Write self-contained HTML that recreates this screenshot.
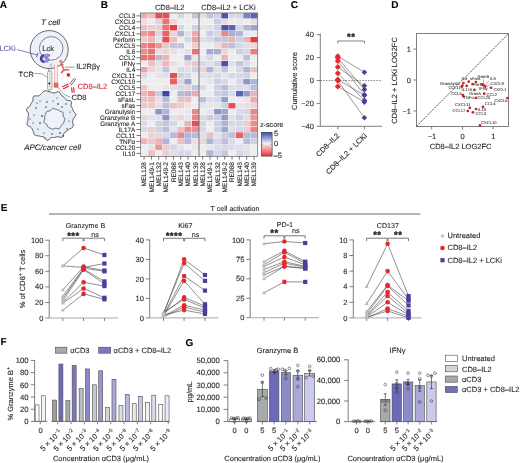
<!DOCTYPE html>
<html><head><meta charset="utf-8"><title>Figure</title>
<style>html,body{margin:0;padding:0;background:#fff;}svg{display:block;} text{text-rendering:geometricPrecision;}</style></head>
<body><svg width="520" height="463" viewBox="0 0 520 463" font-family="'Liberation Sans', Arial, Helvetica, sans-serif" fill="#231f20">
<rect width="520" height="463" fill="#fff"/>
<text x="-0.30" y="7.70" font-size="10" fill="#000" font-weight="bold" stroke="#000" stroke-width="0.1">A</text>
<text x="100.80" y="7.90" font-size="10" fill="#000" font-weight="bold" stroke="#000" stroke-width="0.1">B</text>
<text x="290.80" y="7.90" font-size="10" fill="#000" font-weight="bold" stroke="#000" stroke-width="0.1">C</text>
<text x="391.20" y="7.90" font-size="10" fill="#000" font-weight="bold" stroke="#000" stroke-width="0.1">D</text>
<text x="0.80" y="210.70" font-size="10" fill="#000" font-weight="bold" stroke="#000" stroke-width="0.1">E</text>
<text x="0.50" y="344.70" font-size="10" fill="#000" font-weight="bold" stroke="#000" stroke-width="0.1">F</text>
<text x="185.60" y="345.60" font-size="10" fill="#000" font-weight="bold" stroke="#000" stroke-width="0.1">G</text>
<g>
<circle cx="49.2" cy="49.6" r="19.0" fill="#ebf0f9" stroke="#4d4d4f" stroke-width="0.85"/>
<circle cx="51.2" cy="48.4" r="11.8" fill="#f1f5fb" stroke="#5d5e60" stroke-width="0.75"/>
<text x="50.60" y="25.20" font-size="8" text-anchor="middle" font-style="italic" stroke="#231f20" stroke-width="0.1">T cell</text>
<text x="48.20" y="51.10" font-size="7.5" text-anchor="middle" stroke="#231f20" stroke-width="0.1">Lck</text>
<text x="-0.60" y="51.20" font-size="7.5" fill="#6a5cb0" stroke="#6a5cb0" stroke-width="0.1">LCKi</text>
<line x1="17.2" y1="49.6" x2="37.2" y2="55.0" stroke="#6a5cb0" stroke-width="0.8"/>
<line x1="37.8" y1="52.9" x2="36.6" y2="57.3" stroke="#6a5cb0" stroke-width="1.0"/>
<path d="M44.2,53.9 C41.2,54.2 39.6,56.6 39.8,58.8 C40.0,61.3 42.0,63.2 44.6,63.0 L44.9,60.6 C43.3,60.7 42.6,59.6 42.6,58.4 C42.6,57.1 43.4,56.3 44.6,56.3 Z" fill="#4e3c9e"/>
<path d="M44.0,54.6 C46.0,53.6 49.2,53.4 50.6,55.2 C50.2,56.6 48.6,56.9 47.4,57.3 C48.6,57.9 49.8,58.9 49.6,60.5 C48.6,62.0 46.6,63.2 45.4,62.6 L44.8,60.4 C45.8,59.8 46.0,58.6 45.0,57.8 C44.4,57.2 44.0,56.0 44.0,54.6 Z" fill="#8f82cc"/>
<path d="M45.6,55.5 L48.2,55.2 M45.8,59.2 L47.8,60.6" stroke="#d6d1ee" stroke-width="0.45" fill="none"/>
<line x1="50.2" y1="63.4" x2="50.2" y2="71.5" stroke="#a7a9ac" stroke-width="0.6"/>
<line x1="51.7" y1="63.4" x2="51.7" y2="71.5" stroke="#a7a9ac" stroke-width="0.6"/>
<line x1="48.6" y1="68.8" x2="48.6" y2="96.5" stroke="#58595b" stroke-width="0.5"/>
<rect x="47.5" y="71.3" width="4.5" height="18.8" rx="1.6" fill="#f1f2f2" stroke="#808285" stroke-width="0.6"/>
<line x1="49.6" y1="74.6" x2="52.0" y2="74.6" stroke="#a7a9ac" stroke-width="0.45"/>
<line x1="49.6" y1="77.8" x2="52.0" y2="77.8" stroke="#a7a9ac" stroke-width="0.45"/>
<line x1="49.6" y1="81.0" x2="52.0" y2="81.0" stroke="#a7a9ac" stroke-width="0.45"/>
<line x1="49.6" y1="86.6" x2="52.0" y2="86.6" stroke="#a7a9ac" stroke-width="0.45"/>
<line x1="49.7" y1="71.6" x2="49.7" y2="90" stroke="#b0b1b3" stroke-width="0.4"/>
<circle cx="49.4" cy="83.4" r="1.0" fill="#111"/>
<rect x="54.5" y="64.3" width="3.1" height="18.5" fill="#fcecec" stroke="none"/>
<line x1="54.5" y1="64.3" x2="54.5" y2="82.8" stroke="#ec9a9d" stroke-width="0.7"/>
<line x1="57.6" y1="64.3" x2="57.6" y2="82.8" stroke="#ec9a9d" stroke-width="0.7"/>
<rect x="53.8" y="82.6" width="4.5" height="5.0" fill="#e45c62"/>
<line x1="56.05" y1="82.8" x2="56.05" y2="87.4" stroke="#f2a8ab" stroke-width="0.45"/>
<g stroke="#e66a6f" fill="none" stroke-linecap="round">
<line x1="59.3" y1="61.2" x2="61.8" y2="60.7" stroke-width="1.0"/>
<line x1="60.6" y1="61.2" x2="64.0" y2="70.2" stroke-width="1.7"/>
<line x1="60.8" y1="65.6" x2="63.2" y2="64.6" stroke-width="1.1"/>
<path d="M61.3,72.6 Q64.2,68.6 68.6,70.0" stroke-width="1.8"/>
</g>
<line x1="64.8" y1="67.1" x2="74.6" y2="67.1" stroke="#9c9d9f" stroke-width="1.0"/>
<text x="76.20" y="69.10" font-size="7.5" stroke="#231f20" stroke-width="0.1">IL2R&#946;&#947;</text>
<circle cx="68.4" cy="74.9" r="1.8" fill="#d7262d"/>
<line x1="69.6" y1="76.0" x2="71.4" y2="77.4" stroke="#9c9d9f" stroke-width="0.5"/>
<line x1="69.4" y1="84.3" x2="74.4" y2="77.9" stroke="#3a3a3c" stroke-width="0.75"/>
<line x1="70.9" y1="85.3" x2="75.9" y2="78.9" stroke="#3a3a3c" stroke-width="0.75"/>
<line x1="62.1" y1="87.0" x2="68.3" y2="84.1" stroke="#d4242c" stroke-width="1.1"/>
<line x1="62.9" y1="88.9" x2="69.1" y2="86.0" stroke="#d4242c" stroke-width="1.1"/>
<line x1="71.6" y1="87.4" x2="72.2" y2="92.8" stroke="#d4242c" stroke-width="1.1"/>
<line x1="73.6" y1="87.2" x2="74.2" y2="92.6" stroke="#d4242c" stroke-width="1.1"/>
<text x="77.60" y="89.00" font-size="7.5" fill="#d7262d" stroke="#d7262d" stroke-width="0.1">CD8&#8211;IL2</text>
<polyline points="57.4,86.6 64.5,94.8 70.6,97.3" fill="none" stroke="#58595b" stroke-width="0.55"/>
<text x="71.50" y="100.40" font-size="7.5" stroke="#231f20" stroke-width="0.1">CD8</text>
<text x="18.60" y="76.50" font-size="7.5" stroke="#231f20" stroke-width="0.1">TCR</text>
<polyline points="34.6,73.5 41.8,73.7 47.5,77.6" fill="none" stroke="#58595b" stroke-width="0.55"/>
<path d="M75.77,115.30 L75.46,115.95 L75.02,116.58 L74.52,117.19 L74.05,117.78 L73.66,118.35 L73.34,118.92 L73.09,119.49 L72.91,120.06 L72.77,120.65 L72.69,121.25 L72.67,121.87 L72.71,122.52 L72.81,123.20 L72.97,123.92 L73.12,124.67 L73.22,125.42 L73.19,126.12 L72.99,126.76 L72.60,127.30 L72.05,127.74 L71.39,128.10 L70.70,128.42 L70.04,128.73 L69.45,129.06 L68.93,129.44 L68.47,129.85 L68.03,130.27 L67.57,130.67 L67.07,131.03 L66.54,131.34 L65.98,131.62 L65.44,131.89 L64.94,132.21 L64.50,132.59 L64.15,133.08 L63.86,133.69 L63.63,134.40 L63.39,135.15 L63.12,135.89 L62.76,136.54 L62.30,137.03 L61.72,137.32 L61.04,137.40 L60.30,137.32 L59.55,137.14 L58.80,136.93 L58.10,136.77 L57.46,136.72 L56.86,136.78 L56.30,136.93 L55.74,137.14 L55.18,137.33 L54.61,137.47 L54.02,137.53 L53.43,137.52 L52.83,137.48 L52.24,137.46 L51.67,137.53 L51.09,137.75 L50.50,138.15 L49.89,138.68 L49.24,139.28 L48.57,139.83 L47.88,140.20 L47.21,140.29 L46.58,140.08 L46.00,139.60 L45.47,138.94 L44.99,138.25 L44.52,137.62 L44.03,137.15 L43.50,136.86 L42.92,136.70 L42.32,136.62 L41.69,136.57 L41.07,136.48 L40.46,136.35 L39.86,136.18 L39.26,136.01 L38.62,135.87 L37.95,135.79 L37.22,135.75 L36.48,135.69 L35.78,135.56 L35.15,135.30 L34.64,134.88 L34.25,134.32 L33.96,133.66 L33.73,132.97 L33.52,132.28 L33.29,131.63 L33.05,131.01 L32.80,130.42 L32.55,129.83 L32.31,129.26 L32.04,128.71 L31.74,128.19 L31.37,127.72 L30.91,127.31 L30.35,126.94 L29.69,126.60 L28.99,126.26 L28.30,125.89 L27.71,125.44 L27.29,124.91 L27.07,124.29 L27.06,123.60 L27.21,122.87 L27.46,122.13 L27.72,121.40 L27.93,120.72 L28.05,120.07 L28.07,119.46 L28.03,118.86 L27.97,118.27 L27.93,117.67 L27.96,117.07 L28.06,116.48 L28.21,115.88 L28.36,115.30 L28.47,114.72 L28.49,114.15 L28.37,113.56 L28.12,112.95 L27.74,112.30 L27.30,111.63 L26.89,110.92 L26.59,110.22 L26.48,109.53 L26.61,108.90 L26.98,108.33 L27.54,107.84 L28.20,107.40 L28.87,107.00 L29.47,106.59 L29.94,106.15 L30.28,105.65 L30.50,105.11 L30.67,104.53 L30.85,103.96 L31.09,103.41 L31.40,102.90 L31.78,102.43 L32.18,101.99 L32.54,101.52 L32.82,100.98 L32.98,100.34 L33.03,99.57 L33.02,98.71 L33.04,97.84 L33.19,97.06 L33.53,96.45 L34.06,96.06 L34.78,95.88 L35.59,95.87 L36.43,95.93 L37.22,95.98 L37.92,95.94 L38.54,95.79 L39.09,95.53 L39.59,95.20 L40.06,94.82 L40.54,94.41 L41.01,93.99 L41.50,93.56 L41.98,93.10 L42.46,92.60 L42.95,92.07 L43.47,91.55 L44.02,91.11 L44.62,90.80 L45.26,90.67 L45.94,90.72 L46.64,90.90 L47.32,91.15 L47.99,91.41 L48.64,91.62 L49.27,91.78 L49.89,91.91 L50.50,92.04 L51.10,92.21 L51.70,92.41 L52.28,92.63 L52.86,92.83 L53.44,92.98 L54.03,93.03 L54.64,92.96 L55.29,92.76 L55.98,92.47 L56.70,92.15 L57.43,91.89 L58.15,91.76 L58.82,91.82 L59.41,92.09 L59.92,92.56 L60.35,93.18 L60.72,93.87 L61.07,94.56 L61.43,95.17 L61.83,95.68 L62.27,96.10 L62.75,96.44 L63.25,96.75 L63.74,97.08 L64.19,97.46 L64.59,97.89 L64.96,98.37 L65.30,98.86 L65.66,99.33 L66.08,99.72 L66.59,100.03 L67.23,100.23 L67.99,100.36 L68.82,100.46 L69.66,100.59 L70.42,100.82 L71.02,101.20 L71.39,101.73 L71.53,102.41 L71.48,103.19 L71.31,104.00 L71.14,104.79 L71.05,105.50 L71.10,106.13 L71.30,106.68 L71.62,107.19 L71.98,107.69 L72.32,108.21 L72.61,108.75 L72.82,109.32 L72.97,109.91 L73.12,110.49 L73.35,111.06 L73.70,111.62 L74.19,112.18 L74.74,112.75 L75.28,113.35 L75.67,113.98 L75.85,114.64 Z" fill="#e8eef7" stroke="#3f3f41" stroke-width="0.9" stroke-linejoin="round"/>
<path d="M64.75,119.00 L64.77,119.27 L64.75,119.55 L64.70,119.82 L64.63,120.09 L64.53,120.35 L64.42,120.60 L64.31,120.86 L64.20,121.10 L64.09,121.35 L63.99,121.60 L63.90,121.84 L63.82,122.09 L63.74,122.34 L63.67,122.60 L63.59,122.85 L63.50,123.10 L63.40,123.34 L63.28,123.57 L63.14,123.80 L62.98,124.01 L62.79,124.21 L62.60,124.39 L62.38,124.56 L62.17,124.71 L61.94,124.87 L61.73,125.01 L61.52,125.17 L61.32,125.33 L61.15,125.50 L60.99,125.69 L60.85,125.90 L60.73,126.14 L60.61,126.39 L60.51,126.67 L60.40,126.95 L60.29,127.24 L60.16,127.53 L60.02,127.81 L59.85,128.06 L59.66,128.29 L59.44,128.47 L59.20,128.62 L58.93,128.72 L58.65,128.77 L58.35,128.78 L58.04,128.75 L57.73,128.69 L57.42,128.61 L57.12,128.52 L56.83,128.43 L56.54,128.35 L56.27,128.28 L56.01,128.24 L55.76,128.23 L55.52,128.26 L55.28,128.31 L55.04,128.39 L54.80,128.49 L54.55,128.60 L54.30,128.72 L54.04,128.83 L53.78,128.93 L53.51,129.01 L53.24,129.06 L52.97,129.09 L52.70,129.09 L52.44,129.06 L52.17,129.00 L51.92,128.93 L51.66,128.83 L51.42,128.73 L51.17,128.63 L50.93,128.52 L50.68,128.42 L50.44,128.33 L50.19,128.24 L49.93,128.16 L49.68,128.08 L49.42,127.99 L49.16,127.90 L48.91,127.79 L48.67,127.66 L48.45,127.51 L48.24,127.34 L48.05,127.14 L47.88,126.92 L47.74,126.68 L47.62,126.42 L47.51,126.15 L47.42,125.88 L47.34,125.60 L47.26,125.34 L47.17,125.09 L47.06,124.86 L46.94,124.65 L46.78,124.46 L46.61,124.29 L46.40,124.13 L46.16,123.99 L45.90,123.85 L45.63,123.71 L45.35,123.56 L45.07,123.40 L44.80,123.23 L44.56,123.03 L44.35,122.82 L44.18,122.58 L44.05,122.33 L43.98,122.06 L43.95,121.77 L43.96,121.48 L44.01,121.19 L44.09,120.89 L44.20,120.60 L44.31,120.31 L44.43,120.04 L44.54,119.77 L44.63,119.51 L44.70,119.25 L44.75,119.00 L44.78,118.75 L44.78,118.50 L44.76,118.25 L44.74,117.99 L44.70,117.74 L44.67,117.47 L44.65,117.21 L44.64,116.95 L44.65,116.68 L44.68,116.42 L44.73,116.16 L44.80,115.91 L44.89,115.67 L45.00,115.43 L45.11,115.19 L45.23,114.96 L45.35,114.73 L45.46,114.49 L45.56,114.26 L45.66,114.01 L45.74,113.76 L45.82,113.50 L45.90,113.23 L45.98,112.96 L46.08,112.69 L46.18,112.43 L46.31,112.18 L46.46,111.94 L46.64,111.73 L46.85,111.55 L47.08,111.40 L47.34,111.28 L47.63,111.19 L47.92,111.12 L48.23,111.09 L48.53,111.06 L48.84,111.05 L49.13,111.03 L49.40,111.01 L49.66,110.97 L49.90,110.90 L50.12,110.80 L50.32,110.67 L50.51,110.50 L50.70,110.30 L50.88,110.08 L51.06,109.84 L51.24,109.59 L51.44,109.34 L51.65,109.11 L51.87,108.90 L52.11,108.72 L52.37,108.58 L52.63,108.48 L52.91,108.43 L53.19,108.42 L53.47,108.45 L53.75,108.51 L54.03,108.61 L54.30,108.72 L54.57,108.84 L54.83,108.96 L55.08,109.07 L55.33,109.17 L55.58,109.26 L55.83,109.34 L56.08,109.39 L56.33,109.44 L56.59,109.48 L56.84,109.52 L57.10,109.56 L57.35,109.61 L57.60,109.67 L57.85,109.75 L58.09,109.85 L58.32,109.97 L58.54,110.11 L58.76,110.26 L58.96,110.41 L59.16,110.58 L59.36,110.74 L59.57,110.89 L59.78,111.03 L59.99,111.16 L60.23,111.28 L60.47,111.38 L60.73,111.47 L61.00,111.56 L61.28,111.64 L61.57,111.73 L61.85,111.84 L62.12,111.96 L62.37,112.10 L62.60,112.27 L62.80,112.48 L62.97,112.70 L63.09,112.96 L63.17,113.24 L63.21,113.54 L63.22,113.85 L63.20,114.17 L63.17,114.48 L63.12,114.79 L63.07,115.09 L63.04,115.38 L63.02,115.65 L63.03,115.91 L63.07,116.15 L63.15,116.38 L63.26,116.60 L63.41,116.81 L63.57,117.03 L63.76,117.25 L63.95,117.47 L64.14,117.70 L64.32,117.95 L64.47,118.20 L64.60,118.46 L64.70,118.73 Z" fill="#eef3fa" stroke="#3f3f41" stroke-width="0.8"/>
<circle cx="40" cy="101" r="0.55" fill="#111"/>
<circle cx="47" cy="102" r="0.65" fill="#111"/>
<circle cx="53" cy="101" r="0.55" fill="#111"/>
<circle cx="58" cy="104" r="0.8" fill="#111"/>
<circle cx="62" cy="107" r="0.65" fill="#111"/>
<circle cx="36" cy="108" r="0.65" fill="#111"/>
<circle cx="34" cy="115" r="0.55" fill="#111"/>
<circle cx="33" cy="123" r="0.55" fill="#111"/>
<circle cx="38" cy="129" r="0.55" fill="#111"/>
<circle cx="44" cy="133" r="0.55" fill="#111"/>
<circle cx="52" cy="134" r="0.65" fill="#111"/>
<circle cx="60" cy="133" r="0.8" fill="#111"/>
<circle cx="67" cy="129" r="0.65" fill="#111"/>
<circle cx="69" cy="121" r="0.55" fill="#111"/>
<circle cx="70" cy="112" r="0.55" fill="#111"/>
<circle cx="42" cy="116" r="0.8" fill="#111"/>
<circle cx="40" cy="123" r="0.8" fill="#111"/>
<circle cx="46" cy="107" r="0.65" fill="#111"/>
<circle cx="66" cy="104" r="0.65" fill="#111"/>
<circle cx="57" cy="98" r="0.55" fill="#111"/>
<circle cx="37" cy="103" r="0.55" fill="#111"/>
<circle cx="63" cy="136" r="0.65" fill="#111"/>
<circle cx="30" cy="119" r="0.55" fill="#111"/>
<circle cx="45" cy="138" r="0.55" fill="#111"/>
<text x="52.60" y="150.00" font-size="8" text-anchor="middle" font-style="italic" stroke="#231f20" stroke-width="0.1">APC/cancer cell</text>
</g>
<g shape-rendering="crispEdges">
<rect x="140.40" y="12.90" width="7.33" height="5.98" fill="#ebabae" stroke="#fafafa" stroke-width="0.35"/>
<rect x="147.73" y="12.90" width="7.33" height="5.98" fill="#ecbfc2" stroke="#fafafa" stroke-width="0.35"/>
<rect x="155.06" y="12.90" width="7.33" height="5.98" fill="#e84d51" stroke="#fafafa" stroke-width="0.35"/>
<rect x="162.39" y="12.90" width="7.33" height="5.98" fill="#e84d51" stroke="#fafafa" stroke-width="0.35"/>
<rect x="169.72" y="12.90" width="7.33" height="5.98" fill="#ededf0" stroke="#fafafa" stroke-width="0.35"/>
<rect x="177.06" y="12.90" width="7.33" height="5.98" fill="#d6d8e7" stroke="#fafafa" stroke-width="0.35"/>
<rect x="184.39" y="12.90" width="7.33" height="5.98" fill="#ededf0" stroke="#fafafa" stroke-width="0.35"/>
<rect x="191.72" y="12.90" width="7.33" height="5.98" fill="#c2c6df" stroke="#fafafa" stroke-width="0.35"/>
<rect x="199.05" y="12.90" width="7.33" height="5.98" fill="#eddde1" stroke="#fafafa" stroke-width="0.35"/>
<rect x="206.38" y="12.90" width="7.33" height="5.98" fill="#c2c6df" stroke="#fafafa" stroke-width="0.35"/>
<rect x="213.71" y="12.90" width="7.33" height="5.98" fill="#ced1e3" stroke="#fafafa" stroke-width="0.35"/>
<rect x="221.04" y="12.90" width="7.33" height="5.98" fill="#4855ad" stroke="#fafafa" stroke-width="0.35"/>
<rect x="228.38" y="12.90" width="7.33" height="5.98" fill="#d6d8e7" stroke="#fafafa" stroke-width="0.35"/>
<rect x="235.71" y="12.90" width="7.33" height="5.98" fill="#d6d8e7" stroke="#fafafa" stroke-width="0.35"/>
<rect x="243.04" y="12.90" width="7.33" height="5.98" fill="#7b84c1" stroke="#fafafa" stroke-width="0.35"/>
<rect x="250.37" y="12.90" width="7.33" height="5.98" fill="#5964b3" stroke="#fafafa" stroke-width="0.35"/>
<rect x="140.40" y="18.88" width="7.33" height="5.98" fill="#eddde1" stroke="#fafafa" stroke-width="0.35"/>
<rect x="147.73" y="18.88" width="7.33" height="5.98" fill="#ededf0" stroke="#fafafa" stroke-width="0.35"/>
<rect x="155.06" y="18.88" width="7.33" height="5.98" fill="#d6d8e7" stroke="#fafafa" stroke-width="0.35"/>
<rect x="162.39" y="18.88" width="7.33" height="5.98" fill="#e97275" stroke="#fafafa" stroke-width="0.35"/>
<rect x="169.72" y="18.88" width="7.33" height="5.98" fill="#ecd4d8" stroke="#fafafa" stroke-width="0.35"/>
<rect x="177.06" y="18.88" width="7.33" height="5.98" fill="#ededf0" stroke="#fafafa" stroke-width="0.35"/>
<rect x="184.39" y="18.88" width="7.33" height="5.98" fill="#ededf0" stroke="#fafafa" stroke-width="0.35"/>
<rect x="191.72" y="18.88" width="7.33" height="5.98" fill="#ededf0" stroke="#fafafa" stroke-width="0.35"/>
<rect x="199.05" y="18.88" width="7.33" height="5.98" fill="#ededf0" stroke="#fafafa" stroke-width="0.35"/>
<rect x="206.38" y="18.88" width="7.33" height="5.98" fill="#ededf0" stroke="#fafafa" stroke-width="0.35"/>
<rect x="213.71" y="18.88" width="7.33" height="5.98" fill="#cacde2" stroke="#fafafa" stroke-width="0.35"/>
<rect x="221.04" y="18.88" width="7.33" height="5.98" fill="#ecd9dc" stroke="#fafafa" stroke-width="0.35"/>
<rect x="228.38" y="18.88" width="7.33" height="5.98" fill="#ededf0" stroke="#fafafa" stroke-width="0.35"/>
<rect x="235.71" y="18.88" width="7.33" height="5.98" fill="#e8e8ee" stroke="#fafafa" stroke-width="0.35"/>
<rect x="243.04" y="18.88" width="7.33" height="5.98" fill="#ededf0" stroke="#fafafa" stroke-width="0.35"/>
<rect x="250.37" y="18.88" width="7.33" height="5.98" fill="#eddde1" stroke="#fafafa" stroke-width="0.35"/>
<rect x="140.40" y="24.86" width="7.33" height="5.98" fill="#ecbfc2" stroke="#fafafa" stroke-width="0.35"/>
<rect x="147.73" y="24.86" width="7.33" height="5.98" fill="#eccccf" stroke="#fafafa" stroke-width="0.35"/>
<rect x="155.06" y="24.86" width="7.33" height="5.98" fill="#eccccf" stroke="#fafafa" stroke-width="0.35"/>
<rect x="162.39" y="24.86" width="7.33" height="5.98" fill="#e97275" stroke="#fafafa" stroke-width="0.35"/>
<rect x="169.72" y="24.86" width="7.33" height="5.98" fill="#e83c40" stroke="#fafafa" stroke-width="0.35"/>
<rect x="177.06" y="24.86" width="7.33" height="5.98" fill="#d6d8e7" stroke="#fafafa" stroke-width="0.35"/>
<rect x="184.39" y="24.86" width="7.33" height="5.98" fill="#ededf0" stroke="#fafafa" stroke-width="0.35"/>
<rect x="191.72" y="24.86" width="7.33" height="5.98" fill="#ced1e3" stroke="#fafafa" stroke-width="0.35"/>
<rect x="199.05" y="24.86" width="7.33" height="5.98" fill="#e3e4ec" stroke="#fafafa" stroke-width="0.35"/>
<rect x="206.38" y="24.86" width="7.33" height="5.98" fill="#dfe0ea" stroke="#fafafa" stroke-width="0.35"/>
<rect x="213.71" y="24.86" width="7.33" height="5.98" fill="#ced1e3" stroke="#fafafa" stroke-width="0.35"/>
<rect x="221.04" y="24.86" width="7.33" height="5.98" fill="#4855ad" stroke="#fafafa" stroke-width="0.35"/>
<rect x="228.38" y="24.86" width="7.33" height="5.98" fill="#5964b3" stroke="#fafafa" stroke-width="0.35"/>
<rect x="235.71" y="24.86" width="7.33" height="5.98" fill="#d6d8e7" stroke="#fafafa" stroke-width="0.35"/>
<rect x="243.04" y="24.86" width="7.33" height="5.98" fill="#b0b4d7" stroke="#fafafa" stroke-width="0.35"/>
<rect x="250.37" y="24.86" width="7.33" height="5.98" fill="#9ea4d0" stroke="#fafafa" stroke-width="0.35"/>
<rect x="140.40" y="30.84" width="7.33" height="5.98" fill="#ea989b" stroke="#fafafa" stroke-width="0.35"/>
<rect x="147.73" y="30.84" width="7.33" height="5.98" fill="#ea8588" stroke="#fafafa" stroke-width="0.35"/>
<rect x="155.06" y="30.84" width="7.33" height="5.98" fill="#d6d8e7" stroke="#fafafa" stroke-width="0.35"/>
<rect x="162.39" y="30.84" width="7.33" height="5.98" fill="#e96063" stroke="#fafafa" stroke-width="0.35"/>
<rect x="169.72" y="30.84" width="7.33" height="5.98" fill="#ecd4d8" stroke="#fafafa" stroke-width="0.35"/>
<rect x="177.06" y="30.84" width="7.33" height="5.98" fill="#b0b4d7" stroke="#fafafa" stroke-width="0.35"/>
<rect x="184.39" y="30.84" width="7.33" height="5.98" fill="#dfe0ea" stroke="#fafafa" stroke-width="0.35"/>
<rect x="191.72" y="30.84" width="7.33" height="5.98" fill="#ebabae" stroke="#fafafa" stroke-width="0.35"/>
<rect x="199.05" y="30.84" width="7.33" height="5.98" fill="#ededf0" stroke="#fafafa" stroke-width="0.35"/>
<rect x="206.38" y="30.84" width="7.33" height="5.98" fill="#cacde2" stroke="#fafafa" stroke-width="0.35"/>
<rect x="213.71" y="30.84" width="7.33" height="5.98" fill="#d6d8e7" stroke="#fafafa" stroke-width="0.35"/>
<rect x="221.04" y="30.84" width="7.33" height="5.98" fill="#ea8588" stroke="#fafafa" stroke-width="0.35"/>
<rect x="228.38" y="30.84" width="7.33" height="5.98" fill="#a8aed4" stroke="#fafafa" stroke-width="0.35"/>
<rect x="235.71" y="30.84" width="7.33" height="5.98" fill="#b0b4d7" stroke="#fafafa" stroke-width="0.35"/>
<rect x="243.04" y="30.84" width="7.33" height="5.98" fill="#e8e8ee" stroke="#fafafa" stroke-width="0.35"/>
<rect x="250.37" y="30.84" width="7.33" height="5.98" fill="#ededf0" stroke="#fafafa" stroke-width="0.35"/>
<rect x="140.40" y="36.82" width="7.33" height="5.98" fill="#eccccf" stroke="#fafafa" stroke-width="0.35"/>
<rect x="147.73" y="36.82" width="7.33" height="5.98" fill="#ebb7ba" stroke="#fafafa" stroke-width="0.35"/>
<rect x="155.06" y="36.82" width="7.33" height="5.98" fill="#e3e4ec" stroke="#fafafa" stroke-width="0.35"/>
<rect x="162.39" y="36.82" width="7.33" height="5.98" fill="#e84d51" stroke="#fafafa" stroke-width="0.35"/>
<rect x="169.72" y="36.82" width="7.33" height="5.98" fill="#ecbfc2" stroke="#fafafa" stroke-width="0.35"/>
<rect x="177.06" y="36.82" width="7.33" height="5.98" fill="#ededf0" stroke="#fafafa" stroke-width="0.35"/>
<rect x="184.39" y="36.82" width="7.33" height="5.98" fill="#d6d8e7" stroke="#fafafa" stroke-width="0.35"/>
<rect x="191.72" y="36.82" width="7.33" height="5.98" fill="#eb9fa3" stroke="#fafafa" stroke-width="0.35"/>
<rect x="199.05" y="36.82" width="7.33" height="5.98" fill="#dfe0ea" stroke="#fafafa" stroke-width="0.35"/>
<rect x="206.38" y="36.82" width="7.33" height="5.98" fill="#d6d8e7" stroke="#fafafa" stroke-width="0.35"/>
<rect x="213.71" y="36.82" width="7.33" height="5.98" fill="#c2c6df" stroke="#fafafa" stroke-width="0.35"/>
<rect x="221.04" y="36.82" width="7.33" height="5.98" fill="#c2c6df" stroke="#fafafa" stroke-width="0.35"/>
<rect x="228.38" y="36.82" width="7.33" height="5.98" fill="#ebb3b6" stroke="#fafafa" stroke-width="0.35"/>
<rect x="235.71" y="36.82" width="7.33" height="5.98" fill="#ced1e3" stroke="#fafafa" stroke-width="0.35"/>
<rect x="243.04" y="36.82" width="7.33" height="5.98" fill="#ebb3b6" stroke="#fafafa" stroke-width="0.35"/>
<rect x="250.37" y="36.82" width="7.33" height="5.98" fill="#e83c40" stroke="#fafafa" stroke-width="0.35"/>
<rect x="140.40" y="42.80" width="7.33" height="5.98" fill="#ea8588" stroke="#fafafa" stroke-width="0.35"/>
<rect x="147.73" y="42.80" width="7.33" height="5.98" fill="#e97275" stroke="#fafafa" stroke-width="0.35"/>
<rect x="155.06" y="42.80" width="7.33" height="5.98" fill="#ea989b" stroke="#fafafa" stroke-width="0.35"/>
<rect x="162.39" y="42.80" width="7.33" height="5.98" fill="#ecc8cb" stroke="#fafafa" stroke-width="0.35"/>
<rect x="169.72" y="42.80" width="7.33" height="5.98" fill="#c2c6df" stroke="#fafafa" stroke-width="0.35"/>
<rect x="177.06" y="42.80" width="7.33" height="5.98" fill="#c2c6df" stroke="#fafafa" stroke-width="0.35"/>
<rect x="184.39" y="42.80" width="7.33" height="5.98" fill="#ededf0" stroke="#fafafa" stroke-width="0.35"/>
<rect x="191.72" y="42.80" width="7.33" height="5.98" fill="#eccccf" stroke="#fafafa" stroke-width="0.35"/>
<rect x="199.05" y="42.80" width="7.33" height="5.98" fill="#ededf0" stroke="#fafafa" stroke-width="0.35"/>
<rect x="206.38" y="42.80" width="7.33" height="5.98" fill="#ededf0" stroke="#fafafa" stroke-width="0.35"/>
<rect x="213.71" y="42.80" width="7.33" height="5.98" fill="#eddde1" stroke="#fafafa" stroke-width="0.35"/>
<rect x="221.04" y="42.80" width="7.33" height="5.98" fill="#ebb7ba" stroke="#fafafa" stroke-width="0.35"/>
<rect x="228.38" y="42.80" width="7.33" height="5.98" fill="#bbbfdc" stroke="#fafafa" stroke-width="0.35"/>
<rect x="235.71" y="42.80" width="7.33" height="5.98" fill="#d6d8e7" stroke="#fafafa" stroke-width="0.35"/>
<rect x="243.04" y="42.80" width="7.33" height="5.98" fill="#dfe0ea" stroke="#fafafa" stroke-width="0.35"/>
<rect x="250.37" y="42.80" width="7.33" height="5.98" fill="#ecd9dc" stroke="#fafafa" stroke-width="0.35"/>
<rect x="140.40" y="48.77" width="7.33" height="5.98" fill="#ea8c90" stroke="#fafafa" stroke-width="0.35"/>
<rect x="147.73" y="48.77" width="7.33" height="5.98" fill="#e97275" stroke="#fafafa" stroke-width="0.35"/>
<rect x="155.06" y="48.77" width="7.33" height="5.98" fill="#eddde1" stroke="#fafafa" stroke-width="0.35"/>
<rect x="162.39" y="48.77" width="7.33" height="5.98" fill="#ecd4d8" stroke="#fafafa" stroke-width="0.35"/>
<rect x="169.72" y="48.77" width="7.33" height="5.98" fill="#eddde1" stroke="#fafafa" stroke-width="0.35"/>
<rect x="177.06" y="48.77" width="7.33" height="5.98" fill="#ededf0" stroke="#fafafa" stroke-width="0.35"/>
<rect x="184.39" y="48.77" width="7.33" height="5.98" fill="#dfe0ea" stroke="#fafafa" stroke-width="0.35"/>
<rect x="191.72" y="48.77" width="7.33" height="5.98" fill="#e97275" stroke="#fafafa" stroke-width="0.35"/>
<rect x="199.05" y="48.77" width="7.33" height="5.98" fill="#ededf0" stroke="#fafafa" stroke-width="0.35"/>
<rect x="206.38" y="48.77" width="7.33" height="5.98" fill="#a5aad2" stroke="#fafafa" stroke-width="0.35"/>
<rect x="213.71" y="48.77" width="7.33" height="5.98" fill="#a8aed4" stroke="#fafafa" stroke-width="0.35"/>
<rect x="221.04" y="48.77" width="7.33" height="5.98" fill="#ecd4d8" stroke="#fafafa" stroke-width="0.35"/>
<rect x="228.38" y="48.77" width="7.33" height="5.98" fill="#ededf0" stroke="#fafafa" stroke-width="0.35"/>
<rect x="235.71" y="48.77" width="7.33" height="5.98" fill="#ced1e3" stroke="#fafafa" stroke-width="0.35"/>
<rect x="243.04" y="48.77" width="7.33" height="5.98" fill="#d6d8e7" stroke="#fafafa" stroke-width="0.35"/>
<rect x="250.37" y="48.77" width="7.33" height="5.98" fill="#ea7d81" stroke="#fafafa" stroke-width="0.35"/>
<rect x="140.40" y="54.75" width="7.33" height="5.98" fill="#e97275" stroke="#fafafa" stroke-width="0.35"/>
<rect x="147.73" y="54.75" width="7.33" height="5.98" fill="#e97275" stroke="#fafafa" stroke-width="0.35"/>
<rect x="155.06" y="54.75" width="7.33" height="5.98" fill="#b7bbda" stroke="#fafafa" stroke-width="0.35"/>
<rect x="162.39" y="54.75" width="7.33" height="5.98" fill="#ebb3b6" stroke="#fafafa" stroke-width="0.35"/>
<rect x="169.72" y="54.75" width="7.33" height="5.98" fill="#ededf0" stroke="#fafafa" stroke-width="0.35"/>
<rect x="177.06" y="54.75" width="7.33" height="5.98" fill="#ededf0" stroke="#fafafa" stroke-width="0.35"/>
<rect x="184.39" y="54.75" width="7.33" height="5.98" fill="#9ea4d0" stroke="#fafafa" stroke-width="0.35"/>
<rect x="191.72" y="54.75" width="7.33" height="5.98" fill="#e3e4ec" stroke="#fafafa" stroke-width="0.35"/>
<rect x="199.05" y="54.75" width="7.33" height="5.98" fill="#e8e8ee" stroke="#fafafa" stroke-width="0.35"/>
<rect x="206.38" y="54.75" width="7.33" height="5.98" fill="#d6d8e7" stroke="#fafafa" stroke-width="0.35"/>
<rect x="213.71" y="54.75" width="7.33" height="5.98" fill="#ededf0" stroke="#fafafa" stroke-width="0.35"/>
<rect x="221.04" y="54.75" width="7.33" height="5.98" fill="#ebb3b6" stroke="#fafafa" stroke-width="0.35"/>
<rect x="228.38" y="54.75" width="7.33" height="5.98" fill="#ededf0" stroke="#fafafa" stroke-width="0.35"/>
<rect x="235.71" y="54.75" width="7.33" height="5.98" fill="#ededf0" stroke="#fafafa" stroke-width="0.35"/>
<rect x="243.04" y="54.75" width="7.33" height="5.98" fill="#bbbfdc" stroke="#fafafa" stroke-width="0.35"/>
<rect x="250.37" y="54.75" width="7.33" height="5.98" fill="#ededf0" stroke="#fafafa" stroke-width="0.35"/>
<rect x="140.40" y="60.73" width="7.33" height="5.98" fill="#ededf0" stroke="#fafafa" stroke-width="0.35"/>
<rect x="147.73" y="60.73" width="7.33" height="5.98" fill="#ecbfc2" stroke="#fafafa" stroke-width="0.35"/>
<rect x="155.06" y="60.73" width="7.33" height="5.98" fill="#dfe0ea" stroke="#fafafa" stroke-width="0.35"/>
<rect x="162.39" y="60.73" width="7.33" height="5.98" fill="#ebb7ba" stroke="#fafafa" stroke-width="0.35"/>
<rect x="169.72" y="60.73" width="7.33" height="5.98" fill="#eddde1" stroke="#fafafa" stroke-width="0.35"/>
<rect x="177.06" y="60.73" width="7.33" height="5.98" fill="#ededf0" stroke="#fafafa" stroke-width="0.35"/>
<rect x="184.39" y="60.73" width="7.33" height="5.98" fill="#ecd4d8" stroke="#fafafa" stroke-width="0.35"/>
<rect x="191.72" y="60.73" width="7.33" height="5.98" fill="#ecc8cb" stroke="#fafafa" stroke-width="0.35"/>
<rect x="199.05" y="60.73" width="7.33" height="5.98" fill="#d6d8e7" stroke="#fafafa" stroke-width="0.35"/>
<rect x="206.38" y="60.73" width="7.33" height="5.98" fill="#dfe0ea" stroke="#fafafa" stroke-width="0.35"/>
<rect x="213.71" y="60.73" width="7.33" height="5.98" fill="#ced1e3" stroke="#fafafa" stroke-width="0.35"/>
<rect x="221.04" y="60.73" width="7.33" height="5.98" fill="#4855ad" stroke="#fafafa" stroke-width="0.35"/>
<rect x="228.38" y="60.73" width="7.33" height="5.98" fill="#dfe0ea" stroke="#fafafa" stroke-width="0.35"/>
<rect x="235.71" y="60.73" width="7.33" height="5.98" fill="#c2c6df" stroke="#fafafa" stroke-width="0.35"/>
<rect x="243.04" y="60.73" width="7.33" height="5.98" fill="#dadce8" stroke="#fafafa" stroke-width="0.35"/>
<rect x="250.37" y="60.73" width="7.33" height="5.98" fill="#ededf0" stroke="#fafafa" stroke-width="0.35"/>
<rect x="140.40" y="66.71" width="7.33" height="5.98" fill="#eba3a7" stroke="#fafafa" stroke-width="0.35"/>
<rect x="147.73" y="66.71" width="7.33" height="5.98" fill="#ecd4d8" stroke="#fafafa" stroke-width="0.35"/>
<rect x="155.06" y="66.71" width="7.33" height="5.98" fill="#e3e4ec" stroke="#fafafa" stroke-width="0.35"/>
<rect x="162.39" y="66.71" width="7.33" height="5.98" fill="#c2c6df" stroke="#fafafa" stroke-width="0.35"/>
<rect x="169.72" y="66.71" width="7.33" height="5.98" fill="#ededf0" stroke="#fafafa" stroke-width="0.35"/>
<rect x="177.06" y="66.71" width="7.33" height="5.98" fill="#d6d8e7" stroke="#fafafa" stroke-width="0.35"/>
<rect x="184.39" y="66.71" width="7.33" height="5.98" fill="#dfe0ea" stroke="#fafafa" stroke-width="0.35"/>
<rect x="191.72" y="66.71" width="7.33" height="5.98" fill="#ced1e3" stroke="#fafafa" stroke-width="0.35"/>
<rect x="199.05" y="66.71" width="7.33" height="5.98" fill="#ecd4d8" stroke="#fafafa" stroke-width="0.35"/>
<rect x="206.38" y="66.71" width="7.33" height="5.98" fill="#b0b4d7" stroke="#fafafa" stroke-width="0.35"/>
<rect x="213.71" y="66.71" width="7.33" height="5.98" fill="#dfe0ea" stroke="#fafafa" stroke-width="0.35"/>
<rect x="221.04" y="66.71" width="7.33" height="5.98" fill="#c2c6df" stroke="#fafafa" stroke-width="0.35"/>
<rect x="228.38" y="66.71" width="7.33" height="5.98" fill="#ededf0" stroke="#fafafa" stroke-width="0.35"/>
<rect x="235.71" y="66.71" width="7.33" height="5.98" fill="#d6d8e7" stroke="#fafafa" stroke-width="0.35"/>
<rect x="243.04" y="66.71" width="7.33" height="5.98" fill="#b0b4d7" stroke="#fafafa" stroke-width="0.35"/>
<rect x="250.37" y="66.71" width="7.33" height="5.98" fill="#ecbfc2" stroke="#fafafa" stroke-width="0.35"/>
<rect x="140.40" y="72.69" width="7.33" height="5.98" fill="#d6d8e7" stroke="#fafafa" stroke-width="0.35"/>
<rect x="147.73" y="72.69" width="7.33" height="5.98" fill="#ededf0" stroke="#fafafa" stroke-width="0.35"/>
<rect x="155.06" y="72.69" width="7.33" height="5.98" fill="#e3e4ec" stroke="#fafafa" stroke-width="0.35"/>
<rect x="162.39" y="72.69" width="7.33" height="5.98" fill="#dfe0ea" stroke="#fafafa" stroke-width="0.35"/>
<rect x="169.72" y="72.69" width="7.33" height="5.98" fill="#e84d51" stroke="#fafafa" stroke-width="0.35"/>
<rect x="177.06" y="72.69" width="7.33" height="5.98" fill="#ced1e3" stroke="#fafafa" stroke-width="0.35"/>
<rect x="184.39" y="72.69" width="7.33" height="5.98" fill="#d6d8e7" stroke="#fafafa" stroke-width="0.35"/>
<rect x="191.72" y="72.69" width="7.33" height="5.98" fill="#ededf0" stroke="#fafafa" stroke-width="0.35"/>
<rect x="199.05" y="72.69" width="7.33" height="5.98" fill="#dfe0ea" stroke="#fafafa" stroke-width="0.35"/>
<rect x="206.38" y="72.69" width="7.33" height="5.98" fill="#dfe0ea" stroke="#fafafa" stroke-width="0.35"/>
<rect x="213.71" y="72.69" width="7.33" height="5.98" fill="#d6d8e7" stroke="#fafafa" stroke-width="0.35"/>
<rect x="221.04" y="72.69" width="7.33" height="5.98" fill="#e3e4ec" stroke="#fafafa" stroke-width="0.35"/>
<rect x="228.38" y="72.69" width="7.33" height="5.98" fill="#d6d8e7" stroke="#fafafa" stroke-width="0.35"/>
<rect x="235.71" y="72.69" width="7.33" height="5.98" fill="#d6d8e7" stroke="#fafafa" stroke-width="0.35"/>
<rect x="243.04" y="72.69" width="7.33" height="5.98" fill="#ced1e3" stroke="#fafafa" stroke-width="0.35"/>
<rect x="250.37" y="72.69" width="7.33" height="5.98" fill="#ededf0" stroke="#fafafa" stroke-width="0.35"/>
<rect x="140.40" y="78.67" width="7.33" height="5.98" fill="#ededf0" stroke="#fafafa" stroke-width="0.35"/>
<rect x="147.73" y="78.67" width="7.33" height="5.98" fill="#ededf0" stroke="#fafafa" stroke-width="0.35"/>
<rect x="155.06" y="78.67" width="7.33" height="5.98" fill="#ededf0" stroke="#fafafa" stroke-width="0.35"/>
<rect x="162.39" y="78.67" width="7.33" height="5.98" fill="#ededf0" stroke="#fafafa" stroke-width="0.35"/>
<rect x="169.72" y="78.67" width="7.33" height="5.98" fill="#e96063" stroke="#fafafa" stroke-width="0.35"/>
<rect x="177.06" y="78.67" width="7.33" height="5.98" fill="#d6d8e7" stroke="#fafafa" stroke-width="0.35"/>
<rect x="184.39" y="78.67" width="7.33" height="5.98" fill="#9ea4d0" stroke="#fafafa" stroke-width="0.35"/>
<rect x="191.72" y="78.67" width="7.33" height="5.98" fill="#ededf0" stroke="#fafafa" stroke-width="0.35"/>
<rect x="199.05" y="78.67" width="7.33" height="5.98" fill="#ededf0" stroke="#fafafa" stroke-width="0.35"/>
<rect x="206.38" y="78.67" width="7.33" height="5.98" fill="#e3e4ec" stroke="#fafafa" stroke-width="0.35"/>
<rect x="213.71" y="78.67" width="7.33" height="5.98" fill="#ced1e3" stroke="#fafafa" stroke-width="0.35"/>
<rect x="221.04" y="78.67" width="7.33" height="5.98" fill="#d6d8e7" stroke="#fafafa" stroke-width="0.35"/>
<rect x="228.38" y="78.67" width="7.33" height="5.98" fill="#ededf0" stroke="#fafafa" stroke-width="0.35"/>
<rect x="235.71" y="78.67" width="7.33" height="5.98" fill="#d6d8e7" stroke="#fafafa" stroke-width="0.35"/>
<rect x="243.04" y="78.67" width="7.33" height="5.98" fill="#8c94c8" stroke="#fafafa" stroke-width="0.35"/>
<rect x="250.37" y="78.67" width="7.33" height="5.98" fill="#b0b4d7" stroke="#fafafa" stroke-width="0.35"/>
<rect x="140.40" y="84.65" width="7.33" height="5.98" fill="#ecc8cb" stroke="#fafafa" stroke-width="0.35"/>
<rect x="147.73" y="84.65" width="7.33" height="5.98" fill="#ededf0" stroke="#fafafa" stroke-width="0.35"/>
<rect x="155.06" y="84.65" width="7.33" height="5.98" fill="#ededf0" stroke="#fafafa" stroke-width="0.35"/>
<rect x="162.39" y="84.65" width="7.33" height="5.98" fill="#e3e4ec" stroke="#fafafa" stroke-width="0.35"/>
<rect x="169.72" y="84.65" width="7.33" height="5.98" fill="#dfe0ea" stroke="#fafafa" stroke-width="0.35"/>
<rect x="177.06" y="84.65" width="7.33" height="5.98" fill="#d6d8e7" stroke="#fafafa" stroke-width="0.35"/>
<rect x="184.39" y="84.65" width="7.33" height="5.98" fill="#ecd4d8" stroke="#fafafa" stroke-width="0.35"/>
<rect x="191.72" y="84.65" width="7.33" height="5.98" fill="#c2c6df" stroke="#fafafa" stroke-width="0.35"/>
<rect x="199.05" y="84.65" width="7.33" height="5.98" fill="#dadce8" stroke="#fafafa" stroke-width="0.35"/>
<rect x="206.38" y="84.65" width="7.33" height="5.98" fill="#ededf0" stroke="#fafafa" stroke-width="0.35"/>
<rect x="213.71" y="84.65" width="7.33" height="5.98" fill="#ced1e3" stroke="#fafafa" stroke-width="0.35"/>
<rect x="221.04" y="84.65" width="7.33" height="5.98" fill="#b7bbda" stroke="#fafafa" stroke-width="0.35"/>
<rect x="228.38" y="84.65" width="7.33" height="5.98" fill="#dadce8" stroke="#fafafa" stroke-width="0.35"/>
<rect x="235.71" y="84.65" width="7.33" height="5.98" fill="#dadce8" stroke="#fafafa" stroke-width="0.35"/>
<rect x="243.04" y="84.65" width="7.33" height="5.98" fill="#dfe0ea" stroke="#fafafa" stroke-width="0.35"/>
<rect x="250.37" y="84.65" width="7.33" height="5.98" fill="#bbbfdc" stroke="#fafafa" stroke-width="0.35"/>
<rect x="140.40" y="90.63" width="7.33" height="5.98" fill="#ebb7ba" stroke="#fafafa" stroke-width="0.35"/>
<rect x="147.73" y="90.63" width="7.33" height="5.98" fill="#ea989b" stroke="#fafafa" stroke-width="0.35"/>
<rect x="155.06" y="90.63" width="7.33" height="5.98" fill="#cacde2" stroke="#fafafa" stroke-width="0.35"/>
<rect x="162.39" y="90.63" width="7.33" height="5.98" fill="#3846a6" stroke="#fafafa" stroke-width="0.35"/>
<rect x="169.72" y="90.63" width="7.33" height="5.98" fill="#ededf0" stroke="#fafafa" stroke-width="0.35"/>
<rect x="177.06" y="90.63" width="7.33" height="5.98" fill="#b7bbda" stroke="#fafafa" stroke-width="0.35"/>
<rect x="184.39" y="90.63" width="7.33" height="5.98" fill="#b0b4d7" stroke="#fafafa" stroke-width="0.35"/>
<rect x="191.72" y="90.63" width="7.33" height="5.98" fill="#ebabae" stroke="#fafafa" stroke-width="0.35"/>
<rect x="199.05" y="90.63" width="7.33" height="5.98" fill="#ededf0" stroke="#fafafa" stroke-width="0.35"/>
<rect x="206.38" y="90.63" width="7.33" height="5.98" fill="#ededf0" stroke="#fafafa" stroke-width="0.35"/>
<rect x="213.71" y="90.63" width="7.33" height="5.98" fill="#ced1e3" stroke="#fafafa" stroke-width="0.35"/>
<rect x="221.04" y="90.63" width="7.33" height="5.98" fill="#c2c6df" stroke="#fafafa" stroke-width="0.35"/>
<rect x="228.38" y="90.63" width="7.33" height="5.98" fill="#dadce8" stroke="#fafafa" stroke-width="0.35"/>
<rect x="235.71" y="90.63" width="7.33" height="5.98" fill="#5964b3" stroke="#fafafa" stroke-width="0.35"/>
<rect x="243.04" y="90.63" width="7.33" height="5.98" fill="#939acb" stroke="#fafafa" stroke-width="0.35"/>
<rect x="250.37" y="90.63" width="7.33" height="5.98" fill="#ebb3b6" stroke="#fafafa" stroke-width="0.35"/>
<rect x="140.40" y="96.61" width="7.33" height="5.98" fill="#ecbfc2" stroke="#fafafa" stroke-width="0.35"/>
<rect x="147.73" y="96.61" width="7.33" height="5.98" fill="#ecbfc2" stroke="#fafafa" stroke-width="0.35"/>
<rect x="155.06" y="96.61" width="7.33" height="5.98" fill="#eddde1" stroke="#fafafa" stroke-width="0.35"/>
<rect x="162.39" y="96.61" width="7.33" height="5.98" fill="#b7bbda" stroke="#fafafa" stroke-width="0.35"/>
<rect x="169.72" y="96.61" width="7.33" height="5.98" fill="#ededf0" stroke="#fafafa" stroke-width="0.35"/>
<rect x="177.06" y="96.61" width="7.33" height="5.98" fill="#ecbfc2" stroke="#fafafa" stroke-width="0.35"/>
<rect x="184.39" y="96.61" width="7.33" height="5.98" fill="#ecbfc2" stroke="#fafafa" stroke-width="0.35"/>
<rect x="191.72" y="96.61" width="7.33" height="5.98" fill="#ededf0" stroke="#fafafa" stroke-width="0.35"/>
<rect x="199.05" y="96.61" width="7.33" height="5.98" fill="#bbbfdc" stroke="#fafafa" stroke-width="0.35"/>
<rect x="206.38" y="96.61" width="7.33" height="5.98" fill="#dadce8" stroke="#fafafa" stroke-width="0.35"/>
<rect x="213.71" y="96.61" width="7.33" height="5.98" fill="#d6d8e7" stroke="#fafafa" stroke-width="0.35"/>
<rect x="221.04" y="96.61" width="7.33" height="5.98" fill="#979dcd" stroke="#fafafa" stroke-width="0.35"/>
<rect x="228.38" y="96.61" width="7.33" height="5.98" fill="#ededf0" stroke="#fafafa" stroke-width="0.35"/>
<rect x="235.71" y="96.61" width="7.33" height="5.98" fill="#ededf0" stroke="#fafafa" stroke-width="0.35"/>
<rect x="243.04" y="96.61" width="7.33" height="5.98" fill="#ede2e5" stroke="#fafafa" stroke-width="0.35"/>
<rect x="250.37" y="96.61" width="7.33" height="5.98" fill="#ebabae" stroke="#fafafa" stroke-width="0.35"/>
<rect x="140.40" y="102.59" width="7.33" height="5.98" fill="#ecc8cb" stroke="#fafafa" stroke-width="0.35"/>
<rect x="147.73" y="102.59" width="7.33" height="5.98" fill="#ecc8cb" stroke="#fafafa" stroke-width="0.35"/>
<rect x="155.06" y="102.59" width="7.33" height="5.98" fill="#eddde1" stroke="#fafafa" stroke-width="0.35"/>
<rect x="162.39" y="102.59" width="7.33" height="5.98" fill="#bbbfdc" stroke="#fafafa" stroke-width="0.35"/>
<rect x="169.72" y="102.59" width="7.33" height="5.98" fill="#ecbfc2" stroke="#fafafa" stroke-width="0.35"/>
<rect x="177.06" y="102.59" width="7.33" height="5.98" fill="#eccccf" stroke="#fafafa" stroke-width="0.35"/>
<rect x="184.39" y="102.59" width="7.33" height="5.98" fill="#ede2e5" stroke="#fafafa" stroke-width="0.35"/>
<rect x="191.72" y="102.59" width="7.33" height="5.98" fill="#ededf0" stroke="#fafafa" stroke-width="0.35"/>
<rect x="199.05" y="102.59" width="7.33" height="5.98" fill="#e3e4ec" stroke="#fafafa" stroke-width="0.35"/>
<rect x="206.38" y="102.59" width="7.33" height="5.98" fill="#ede2e5" stroke="#fafafa" stroke-width="0.35"/>
<rect x="213.71" y="102.59" width="7.33" height="5.98" fill="#e3e4ec" stroke="#fafafa" stroke-width="0.35"/>
<rect x="221.04" y="102.59" width="7.33" height="5.98" fill="#ced1e3" stroke="#fafafa" stroke-width="0.35"/>
<rect x="228.38" y="102.59" width="7.33" height="5.98" fill="#e84d51" stroke="#fafafa" stroke-width="0.35"/>
<rect x="235.71" y="102.59" width="7.33" height="5.98" fill="#e3e4ec" stroke="#fafafa" stroke-width="0.35"/>
<rect x="243.04" y="102.59" width="7.33" height="5.98" fill="#eddde1" stroke="#fafafa" stroke-width="0.35"/>
<rect x="250.37" y="102.59" width="7.33" height="5.98" fill="#ecd4d8" stroke="#fafafa" stroke-width="0.35"/>
<rect x="140.40" y="108.57" width="7.33" height="5.98" fill="#ededf0" stroke="#fafafa" stroke-width="0.35"/>
<rect x="147.73" y="108.57" width="7.33" height="5.98" fill="#ededf0" stroke="#fafafa" stroke-width="0.35"/>
<rect x="155.06" y="108.57" width="7.33" height="5.98" fill="#8c94c8" stroke="#fafafa" stroke-width="0.35"/>
<rect x="162.39" y="108.57" width="7.33" height="5.98" fill="#b0b4d7" stroke="#fafafa" stroke-width="0.35"/>
<rect x="169.72" y="108.57" width="7.33" height="5.98" fill="#ededf0" stroke="#fafafa" stroke-width="0.35"/>
<rect x="177.06" y="108.57" width="7.33" height="5.98" fill="#ededf0" stroke="#fafafa" stroke-width="0.35"/>
<rect x="184.39" y="108.57" width="7.33" height="5.98" fill="#e8e8ee" stroke="#fafafa" stroke-width="0.35"/>
<rect x="191.72" y="108.57" width="7.33" height="5.98" fill="#ea8588" stroke="#fafafa" stroke-width="0.35"/>
<rect x="199.05" y="108.57" width="7.33" height="5.98" fill="#ededf0" stroke="#fafafa" stroke-width="0.35"/>
<rect x="206.38" y="108.57" width="7.33" height="5.98" fill="#e3e4ec" stroke="#fafafa" stroke-width="0.35"/>
<rect x="213.71" y="108.57" width="7.33" height="5.98" fill="#8c94c8" stroke="#fafafa" stroke-width="0.35"/>
<rect x="221.04" y="108.57" width="7.33" height="5.98" fill="#9ea4d0" stroke="#fafafa" stroke-width="0.35"/>
<rect x="228.38" y="108.57" width="7.33" height="5.98" fill="#ededf0" stroke="#fafafa" stroke-width="0.35"/>
<rect x="235.71" y="108.57" width="7.33" height="5.98" fill="#dadce8" stroke="#fafafa" stroke-width="0.35"/>
<rect x="243.04" y="108.57" width="7.33" height="5.98" fill="#d6d8e7" stroke="#fafafa" stroke-width="0.35"/>
<rect x="250.37" y="108.57" width="7.33" height="5.98" fill="#ea8588" stroke="#fafafa" stroke-width="0.35"/>
<rect x="140.40" y="114.55" width="7.33" height="5.98" fill="#ecd4d8" stroke="#fafafa" stroke-width="0.35"/>
<rect x="147.73" y="114.55" width="7.33" height="5.98" fill="#dfe0ea" stroke="#fafafa" stroke-width="0.35"/>
<rect x="155.06" y="114.55" width="7.33" height="5.98" fill="#dfe0ea" stroke="#fafafa" stroke-width="0.35"/>
<rect x="162.39" y="114.55" width="7.33" height="5.98" fill="#8c94c8" stroke="#fafafa" stroke-width="0.35"/>
<rect x="169.72" y="114.55" width="7.33" height="5.98" fill="#dfe0ea" stroke="#fafafa" stroke-width="0.35"/>
<rect x="177.06" y="114.55" width="7.33" height="5.98" fill="#ecd4d8" stroke="#fafafa" stroke-width="0.35"/>
<rect x="184.39" y="114.55" width="7.33" height="5.98" fill="#e3e4ec" stroke="#fafafa" stroke-width="0.35"/>
<rect x="191.72" y="114.55" width="7.33" height="5.98" fill="#ea8588" stroke="#fafafa" stroke-width="0.35"/>
<rect x="199.05" y="114.55" width="7.33" height="5.98" fill="#dadce8" stroke="#fafafa" stroke-width="0.35"/>
<rect x="206.38" y="114.55" width="7.33" height="5.98" fill="#cacde2" stroke="#fafafa" stroke-width="0.35"/>
<rect x="213.71" y="114.55" width="7.33" height="5.98" fill="#ced1e3" stroke="#fafafa" stroke-width="0.35"/>
<rect x="221.04" y="114.55" width="7.33" height="5.98" fill="#939acb" stroke="#fafafa" stroke-width="0.35"/>
<rect x="228.38" y="114.55" width="7.33" height="5.98" fill="#dfe0ea" stroke="#fafafa" stroke-width="0.35"/>
<rect x="235.71" y="114.55" width="7.33" height="5.98" fill="#ced1e3" stroke="#fafafa" stroke-width="0.35"/>
<rect x="243.04" y="114.55" width="7.33" height="5.98" fill="#dfe0ea" stroke="#fafafa" stroke-width="0.35"/>
<rect x="250.37" y="114.55" width="7.33" height="5.98" fill="#ea989b" stroke="#fafafa" stroke-width="0.35"/>
<rect x="140.40" y="120.53" width="7.33" height="5.98" fill="#dadce8" stroke="#fafafa" stroke-width="0.35"/>
<rect x="147.73" y="120.53" width="7.33" height="5.98" fill="#ededf0" stroke="#fafafa" stroke-width="0.35"/>
<rect x="155.06" y="120.53" width="7.33" height="5.98" fill="#ced1e3" stroke="#fafafa" stroke-width="0.35"/>
<rect x="162.39" y="120.53" width="7.33" height="5.98" fill="#c2c6df" stroke="#fafafa" stroke-width="0.35"/>
<rect x="169.72" y="120.53" width="7.33" height="5.98" fill="#d6d8e7" stroke="#fafafa" stroke-width="0.35"/>
<rect x="177.06" y="120.53" width="7.33" height="5.98" fill="#ededf0" stroke="#fafafa" stroke-width="0.35"/>
<rect x="184.39" y="120.53" width="7.33" height="5.98" fill="#ebb3b6" stroke="#fafafa" stroke-width="0.35"/>
<rect x="191.72" y="120.53" width="7.33" height="5.98" fill="#e84d51" stroke="#fafafa" stroke-width="0.35"/>
<rect x="199.05" y="120.53" width="7.33" height="5.98" fill="#d6d8e7" stroke="#fafafa" stroke-width="0.35"/>
<rect x="206.38" y="120.53" width="7.33" height="5.98" fill="#ededf0" stroke="#fafafa" stroke-width="0.35"/>
<rect x="213.71" y="120.53" width="7.33" height="5.98" fill="#ced1e3" stroke="#fafafa" stroke-width="0.35"/>
<rect x="221.04" y="120.53" width="7.33" height="5.98" fill="#b0b4d7" stroke="#fafafa" stroke-width="0.35"/>
<rect x="228.38" y="120.53" width="7.33" height="5.98" fill="#d6d8e7" stroke="#fafafa" stroke-width="0.35"/>
<rect x="235.71" y="120.53" width="7.33" height="5.98" fill="#d6d8e7" stroke="#fafafa" stroke-width="0.35"/>
<rect x="243.04" y="120.53" width="7.33" height="5.98" fill="#eccccf" stroke="#fafafa" stroke-width="0.35"/>
<rect x="250.37" y="120.53" width="7.33" height="5.98" fill="#ea8c90" stroke="#fafafa" stroke-width="0.35"/>
<rect x="140.40" y="126.50" width="7.33" height="5.98" fill="#d6d8e7" stroke="#fafafa" stroke-width="0.35"/>
<rect x="147.73" y="126.50" width="7.33" height="5.98" fill="#eccccf" stroke="#fafafa" stroke-width="0.35"/>
<rect x="155.06" y="126.50" width="7.33" height="5.98" fill="#ced1e3" stroke="#fafafa" stroke-width="0.35"/>
<rect x="162.39" y="126.50" width="7.33" height="5.98" fill="#bbbfdc" stroke="#fafafa" stroke-width="0.35"/>
<rect x="169.72" y="126.50" width="7.33" height="5.98" fill="#e3e4ec" stroke="#fafafa" stroke-width="0.35"/>
<rect x="177.06" y="126.50" width="7.33" height="5.98" fill="#ecbfc2" stroke="#fafafa" stroke-width="0.35"/>
<rect x="184.39" y="126.50" width="7.33" height="5.98" fill="#ea8c90" stroke="#fafafa" stroke-width="0.35"/>
<rect x="191.72" y="126.50" width="7.33" height="5.98" fill="#ea8c90" stroke="#fafafa" stroke-width="0.35"/>
<rect x="199.05" y="126.50" width="7.33" height="5.98" fill="#d6d8e7" stroke="#fafafa" stroke-width="0.35"/>
<rect x="206.38" y="126.50" width="7.33" height="5.98" fill="#ededf0" stroke="#fafafa" stroke-width="0.35"/>
<rect x="213.71" y="126.50" width="7.33" height="5.98" fill="#ced1e3" stroke="#fafafa" stroke-width="0.35"/>
<rect x="221.04" y="126.50" width="7.33" height="5.98" fill="#9ea4d0" stroke="#fafafa" stroke-width="0.35"/>
<rect x="228.38" y="126.50" width="7.33" height="5.98" fill="#dfe0ea" stroke="#fafafa" stroke-width="0.35"/>
<rect x="235.71" y="126.50" width="7.33" height="5.98" fill="#d6d8e7" stroke="#fafafa" stroke-width="0.35"/>
<rect x="243.04" y="126.50" width="7.33" height="5.98" fill="#eccccf" stroke="#fafafa" stroke-width="0.35"/>
<rect x="250.37" y="126.50" width="7.33" height="5.98" fill="#ea8588" stroke="#fafafa" stroke-width="0.35"/>
<rect x="140.40" y="132.48" width="7.33" height="5.98" fill="#ededf0" stroke="#fafafa" stroke-width="0.35"/>
<rect x="147.73" y="132.48" width="7.33" height="5.98" fill="#ecd4d8" stroke="#fafafa" stroke-width="0.35"/>
<rect x="155.06" y="132.48" width="7.33" height="5.98" fill="#ecd4d8" stroke="#fafafa" stroke-width="0.35"/>
<rect x="162.39" y="132.48" width="7.33" height="5.98" fill="#d6d8e7" stroke="#fafafa" stroke-width="0.35"/>
<rect x="169.72" y="132.48" width="7.33" height="5.98" fill="#b7bbda" stroke="#fafafa" stroke-width="0.35"/>
<rect x="177.06" y="132.48" width="7.33" height="5.98" fill="#ea8588" stroke="#fafafa" stroke-width="0.35"/>
<rect x="184.39" y="132.48" width="7.33" height="5.98" fill="#b0b4d7" stroke="#fafafa" stroke-width="0.35"/>
<rect x="191.72" y="132.48" width="7.33" height="5.98" fill="#b7bbda" stroke="#fafafa" stroke-width="0.35"/>
<rect x="199.05" y="132.48" width="7.33" height="5.98" fill="#dfe0ea" stroke="#fafafa" stroke-width="0.35"/>
<rect x="206.38" y="132.48" width="7.33" height="5.98" fill="#ecbfc2" stroke="#fafafa" stroke-width="0.35"/>
<rect x="213.71" y="132.48" width="7.33" height="5.98" fill="#e3e4ec" stroke="#fafafa" stroke-width="0.35"/>
<rect x="221.04" y="132.48" width="7.33" height="5.98" fill="#ced1e3" stroke="#fafafa" stroke-width="0.35"/>
<rect x="228.38" y="132.48" width="7.33" height="5.98" fill="#bbbfdc" stroke="#fafafa" stroke-width="0.35"/>
<rect x="235.71" y="132.48" width="7.33" height="5.98" fill="#e96063" stroke="#fafafa" stroke-width="0.35"/>
<rect x="243.04" y="132.48" width="7.33" height="5.98" fill="#b7bbda" stroke="#fafafa" stroke-width="0.35"/>
<rect x="250.37" y="132.48" width="7.33" height="5.98" fill="#b7bbda" stroke="#fafafa" stroke-width="0.35"/>
<rect x="140.40" y="138.46" width="7.33" height="5.98" fill="#ebb3b6" stroke="#fafafa" stroke-width="0.35"/>
<rect x="147.73" y="138.46" width="7.33" height="5.98" fill="#ecc8cb" stroke="#fafafa" stroke-width="0.35"/>
<rect x="155.06" y="138.46" width="7.33" height="5.98" fill="#ebb3b6" stroke="#fafafa" stroke-width="0.35"/>
<rect x="162.39" y="138.46" width="7.33" height="5.98" fill="#b0b4d7" stroke="#fafafa" stroke-width="0.35"/>
<rect x="169.72" y="138.46" width="7.33" height="5.98" fill="#ededf0" stroke="#fafafa" stroke-width="0.35"/>
<rect x="177.06" y="138.46" width="7.33" height="5.98" fill="#ecbfc2" stroke="#fafafa" stroke-width="0.35"/>
<rect x="184.39" y="138.46" width="7.33" height="5.98" fill="#b7bbda" stroke="#fafafa" stroke-width="0.35"/>
<rect x="191.72" y="138.46" width="7.33" height="5.98" fill="#eddde1" stroke="#fafafa" stroke-width="0.35"/>
<rect x="199.05" y="138.46" width="7.33" height="5.98" fill="#ecd4d8" stroke="#fafafa" stroke-width="0.35"/>
<rect x="206.38" y="138.46" width="7.33" height="5.98" fill="#b0b4d7" stroke="#fafafa" stroke-width="0.35"/>
<rect x="213.71" y="138.46" width="7.33" height="5.98" fill="#d6d8e7" stroke="#fafafa" stroke-width="0.35"/>
<rect x="221.04" y="138.46" width="7.33" height="5.98" fill="#bbbfdc" stroke="#fafafa" stroke-width="0.35"/>
<rect x="228.38" y="138.46" width="7.33" height="5.98" fill="#dadce8" stroke="#fafafa" stroke-width="0.35"/>
<rect x="235.71" y="138.46" width="7.33" height="5.98" fill="#ededf0" stroke="#fafafa" stroke-width="0.35"/>
<rect x="243.04" y="138.46" width="7.33" height="5.98" fill="#b7bbda" stroke="#fafafa" stroke-width="0.35"/>
<rect x="250.37" y="138.46" width="7.33" height="5.98" fill="#ced1e3" stroke="#fafafa" stroke-width="0.35"/>
<rect x="140.40" y="144.44" width="7.33" height="5.98" fill="#ededf0" stroke="#fafafa" stroke-width="0.35"/>
<rect x="147.73" y="144.44" width="7.33" height="5.98" fill="#ede2e5" stroke="#fafafa" stroke-width="0.35"/>
<rect x="155.06" y="144.44" width="7.33" height="5.98" fill="#ea989b" stroke="#fafafa" stroke-width="0.35"/>
<rect x="162.39" y="144.44" width="7.33" height="5.98" fill="#eccccf" stroke="#fafafa" stroke-width="0.35"/>
<rect x="169.72" y="144.44" width="7.33" height="5.98" fill="#d6d8e7" stroke="#fafafa" stroke-width="0.35"/>
<rect x="177.06" y="144.44" width="7.33" height="5.98" fill="#e3e4ec" stroke="#fafafa" stroke-width="0.35"/>
<rect x="184.39" y="144.44" width="7.33" height="5.98" fill="#ededf0" stroke="#fafafa" stroke-width="0.35"/>
<rect x="191.72" y="144.44" width="7.33" height="5.98" fill="#ede2e5" stroke="#fafafa" stroke-width="0.35"/>
<rect x="199.05" y="144.44" width="7.33" height="5.98" fill="#ededf0" stroke="#fafafa" stroke-width="0.35"/>
<rect x="206.38" y="144.44" width="7.33" height="5.98" fill="#e3e4ec" stroke="#fafafa" stroke-width="0.35"/>
<rect x="213.71" y="144.44" width="7.33" height="5.98" fill="#dadce8" stroke="#fafafa" stroke-width="0.35"/>
<rect x="221.04" y="144.44" width="7.33" height="5.98" fill="#d6d8e7" stroke="#fafafa" stroke-width="0.35"/>
<rect x="228.38" y="144.44" width="7.33" height="5.98" fill="#dadce8" stroke="#fafafa" stroke-width="0.35"/>
<rect x="235.71" y="144.44" width="7.33" height="5.98" fill="#dfe0ea" stroke="#fafafa" stroke-width="0.35"/>
<rect x="243.04" y="144.44" width="7.33" height="5.98" fill="#e3e4ec" stroke="#fafafa" stroke-width="0.35"/>
<rect x="250.37" y="144.44" width="7.33" height="5.98" fill="#ededf0" stroke="#fafafa" stroke-width="0.35"/>
<rect x="140.40" y="150.42" width="7.33" height="5.98" fill="#ededf0" stroke="#fafafa" stroke-width="0.35"/>
<rect x="147.73" y="150.42" width="7.33" height="5.98" fill="#ecbfc2" stroke="#fafafa" stroke-width="0.35"/>
<rect x="155.06" y="150.42" width="7.33" height="5.98" fill="#ededf0" stroke="#fafafa" stroke-width="0.35"/>
<rect x="162.39" y="150.42" width="7.33" height="5.98" fill="#eccccf" stroke="#fafafa" stroke-width="0.35"/>
<rect x="169.72" y="150.42" width="7.33" height="5.98" fill="#dfe0ea" stroke="#fafafa" stroke-width="0.35"/>
<rect x="177.06" y="150.42" width="7.33" height="5.98" fill="#d6d8e7" stroke="#fafafa" stroke-width="0.35"/>
<rect x="184.39" y="150.42" width="7.33" height="5.98" fill="#d6d8e7" stroke="#fafafa" stroke-width="0.35"/>
<rect x="191.72" y="150.42" width="7.33" height="5.98" fill="#ededf0" stroke="#fafafa" stroke-width="0.35"/>
<rect x="199.05" y="150.42" width="7.33" height="5.98" fill="#ededf0" stroke="#fafafa" stroke-width="0.35"/>
<rect x="206.38" y="150.42" width="7.33" height="5.98" fill="#b0b4d7" stroke="#fafafa" stroke-width="0.35"/>
<rect x="213.71" y="150.42" width="7.33" height="5.98" fill="#d6d8e7" stroke="#fafafa" stroke-width="0.35"/>
<rect x="221.04" y="150.42" width="7.33" height="5.98" fill="#c2c6df" stroke="#fafafa" stroke-width="0.35"/>
<rect x="228.38" y="150.42" width="7.33" height="5.98" fill="#ededf0" stroke="#fafafa" stroke-width="0.35"/>
<rect x="235.71" y="150.42" width="7.33" height="5.98" fill="#d6d8e7" stroke="#fafafa" stroke-width="0.35"/>
<rect x="243.04" y="150.42" width="7.33" height="5.98" fill="#dfe0ea" stroke="#fafafa" stroke-width="0.35"/>
<rect x="250.37" y="150.42" width="7.33" height="5.98" fill="#ededf0" stroke="#fafafa" stroke-width="0.35"/>
</g>
<rect x="140.40" y="12.90" width="117.30" height="143.50" fill="none" stroke="#7a7a7a" stroke-width="0.8"/>
<line x1="199.05" y1="12.90" x2="199.05" y2="156.40" stroke="#6a6a6a" stroke-width="0.9"/>
<line x1="136.50" y1="15.89" x2="140.40" y2="15.89" stroke="#444" stroke-width="0.75"/>
<text x="135.20" y="18.14" font-size="6.35" text-anchor="end" stroke="#231f20" stroke-width="0.1">CCL3</text>
<line x1="136.50" y1="21.87" x2="140.40" y2="21.87" stroke="#444" stroke-width="0.75"/>
<text x="135.20" y="24.12" font-size="6.35" text-anchor="end" stroke="#231f20" stroke-width="0.1">CXCL9</text>
<line x1="136.50" y1="27.85" x2="140.40" y2="27.85" stroke="#444" stroke-width="0.75"/>
<text x="135.20" y="30.10" font-size="6.35" text-anchor="end" stroke="#231f20" stroke-width="0.1">CCL4</text>
<line x1="136.50" y1="33.83" x2="140.40" y2="33.83" stroke="#444" stroke-width="0.75"/>
<text x="135.20" y="36.08" font-size="6.35" text-anchor="end" stroke="#231f20" stroke-width="0.1">CXCL1</text>
<line x1="136.50" y1="39.81" x2="140.40" y2="39.81" stroke="#444" stroke-width="0.75"/>
<text x="135.20" y="42.06" font-size="6.35" text-anchor="end" stroke="#231f20" stroke-width="0.1">Perforin</text>
<line x1="136.50" y1="45.79" x2="140.40" y2="45.79" stroke="#444" stroke-width="0.75"/>
<text x="135.20" y="48.04" font-size="6.35" text-anchor="end" stroke="#231f20" stroke-width="0.1">CXCL5</text>
<line x1="136.50" y1="51.76" x2="140.40" y2="51.76" stroke="#444" stroke-width="0.75"/>
<text x="135.20" y="54.01" font-size="6.35" text-anchor="end" stroke="#231f20" stroke-width="0.1">IL6</text>
<line x1="136.50" y1="57.74" x2="140.40" y2="57.74" stroke="#444" stroke-width="0.75"/>
<text x="135.20" y="59.99" font-size="6.35" text-anchor="end" stroke="#231f20" stroke-width="0.1">CCL2</text>
<line x1="136.50" y1="63.72" x2="140.40" y2="63.72" stroke="#444" stroke-width="0.75"/>
<text x="135.20" y="65.97" font-size="6.35" text-anchor="end" stroke="#231f20" stroke-width="0.1">IFN&#947;</text>
<line x1="136.50" y1="69.70" x2="140.40" y2="69.70" stroke="#444" stroke-width="0.75"/>
<text x="135.20" y="71.95" font-size="6.35" text-anchor="end" stroke="#231f20" stroke-width="0.1">IL4</text>
<line x1="136.50" y1="75.68" x2="140.40" y2="75.68" stroke="#444" stroke-width="0.75"/>
<text x="135.20" y="77.93" font-size="6.35" text-anchor="end" stroke="#231f20" stroke-width="0.1">CXCL11</text>
<line x1="136.50" y1="81.66" x2="140.40" y2="81.66" stroke="#444" stroke-width="0.75"/>
<text x="135.20" y="83.91" font-size="6.35" text-anchor="end" stroke="#231f20" stroke-width="0.1">CXCL10</text>
<line x1="136.50" y1="87.64" x2="140.40" y2="87.64" stroke="#444" stroke-width="0.75"/>
<text x="135.20" y="89.89" font-size="6.35" text-anchor="end" stroke="#231f20" stroke-width="0.1">CCL5</text>
<line x1="136.50" y1="93.62" x2="140.40" y2="93.62" stroke="#444" stroke-width="0.75"/>
<text x="135.20" y="95.87" font-size="6.35" text-anchor="end" stroke="#231f20" stroke-width="0.1">CCL17</text>
<line x1="136.50" y1="99.60" x2="140.40" y2="99.60" stroke="#444" stroke-width="0.75"/>
<text x="135.20" y="101.85" font-size="6.35" text-anchor="end" stroke="#231f20" stroke-width="0.1">sFasL</text>
<line x1="136.50" y1="105.58" x2="140.40" y2="105.58" stroke="#444" stroke-width="0.75"/>
<text x="135.20" y="107.83" font-size="6.35" text-anchor="end" stroke="#231f20" stroke-width="0.1">sFas</text>
<line x1="136.50" y1="111.56" x2="140.40" y2="111.56" stroke="#444" stroke-width="0.75"/>
<text x="135.20" y="113.81" font-size="6.35" text-anchor="end" stroke="#231f20" stroke-width="0.1">Granulysin</text>
<line x1="136.50" y1="117.54" x2="140.40" y2="117.54" stroke="#444" stroke-width="0.75"/>
<text x="135.20" y="119.79" font-size="6.35" text-anchor="end" stroke="#231f20" stroke-width="0.1">Granzyme B</text>
<line x1="136.50" y1="123.51" x2="140.40" y2="123.51" stroke="#444" stroke-width="0.75"/>
<text x="135.20" y="125.76" font-size="6.35" text-anchor="end" stroke="#231f20" stroke-width="0.1">Granzyme A</text>
<line x1="136.50" y1="129.49" x2="140.40" y2="129.49" stroke="#444" stroke-width="0.75"/>
<text x="135.20" y="131.74" font-size="6.35" text-anchor="end" stroke="#231f20" stroke-width="0.1">IL17A</text>
<line x1="136.50" y1="135.47" x2="140.40" y2="135.47" stroke="#444" stroke-width="0.75"/>
<text x="135.20" y="137.72" font-size="6.35" text-anchor="end" stroke="#231f20" stroke-width="0.1">CCL11</text>
<line x1="136.50" y1="141.45" x2="140.40" y2="141.45" stroke="#444" stroke-width="0.75"/>
<text x="135.20" y="143.70" font-size="6.35" text-anchor="end" stroke="#231f20" stroke-width="0.1">TNF&#945;</text>
<line x1="136.50" y1="147.43" x2="140.40" y2="147.43" stroke="#444" stroke-width="0.75"/>
<text x="135.20" y="149.68" font-size="6.35" text-anchor="end" stroke="#231f20" stroke-width="0.1">CCL20</text>
<line x1="136.50" y1="153.41" x2="140.40" y2="153.41" stroke="#444" stroke-width="0.75"/>
<text x="135.20" y="155.66" font-size="6.35" text-anchor="end" stroke="#231f20" stroke-width="0.1">IL10</text>
<line x1="144.07" y1="156.40" x2="144.07" y2="159.60" stroke="#444" stroke-width="0.75"/>
<text x="146.37" y="162.00" font-size="6.6" text-anchor="end" transform="rotate(-90 146.37 162.00)" stroke="#231f20" stroke-width="0.1">MEL128</text>
<line x1="151.40" y1="156.40" x2="151.40" y2="159.60" stroke="#444" stroke-width="0.75"/>
<text x="153.70" y="162.00" font-size="6.6" text-anchor="end" transform="rotate(-90 153.70 162.00)" stroke="#231f20" stroke-width="0.1">MEL149-1</text>
<line x1="158.73" y1="156.40" x2="158.73" y2="159.60" stroke="#444" stroke-width="0.75"/>
<text x="161.03" y="162.00" font-size="6.6" text-anchor="end" transform="rotate(-90 161.03 162.00)" stroke="#231f20" stroke-width="0.1">MEL132</text>
<line x1="166.06" y1="156.40" x2="166.06" y2="159.60" stroke="#444" stroke-width="0.75"/>
<text x="168.36" y="162.00" font-size="6.6" text-anchor="end" transform="rotate(-90 168.36 162.00)" stroke="#231f20" stroke-width="0.1">MEL149-2</text>
<line x1="173.39" y1="156.40" x2="173.39" y2="159.60" stroke="#444" stroke-width="0.75"/>
<text x="175.69" y="162.00" font-size="6.6" text-anchor="end" transform="rotate(-90 175.69 162.00)" stroke="#231f20" stroke-width="0.1">RE088</text>
<line x1="180.72" y1="156.40" x2="180.72" y2="159.60" stroke="#444" stroke-width="0.75"/>
<text x="183.02" y="162.00" font-size="6.6" text-anchor="end" transform="rotate(-90 183.02 162.00)" stroke="#231f20" stroke-width="0.1">MEL143</text>
<line x1="188.05" y1="156.40" x2="188.05" y2="159.60" stroke="#444" stroke-width="0.75"/>
<text x="190.35" y="162.00" font-size="6.6" text-anchor="end" transform="rotate(-90 190.35 162.00)" stroke="#231f20" stroke-width="0.1">MEL140</text>
<line x1="195.38" y1="156.40" x2="195.38" y2="159.60" stroke="#444" stroke-width="0.75"/>
<text x="197.68" y="162.00" font-size="6.6" text-anchor="end" transform="rotate(-90 197.68 162.00)" stroke="#231f20" stroke-width="0.1">MEL139</text>
<line x1="202.72" y1="156.40" x2="202.72" y2="159.60" stroke="#444" stroke-width="0.75"/>
<text x="205.02" y="162.00" font-size="6.6" text-anchor="end" transform="rotate(-90 205.02 162.00)" stroke="#231f20" stroke-width="0.1">MEL128</text>
<line x1="210.05" y1="156.40" x2="210.05" y2="159.60" stroke="#444" stroke-width="0.75"/>
<text x="212.35" y="162.00" font-size="6.6" text-anchor="end" transform="rotate(-90 212.35 162.00)" stroke="#231f20" stroke-width="0.1">MEL149-1</text>
<line x1="217.38" y1="156.40" x2="217.38" y2="159.60" stroke="#444" stroke-width="0.75"/>
<text x="219.68" y="162.00" font-size="6.6" text-anchor="end" transform="rotate(-90 219.68 162.00)" stroke="#231f20" stroke-width="0.1">MEL132</text>
<line x1="224.71" y1="156.40" x2="224.71" y2="159.60" stroke="#444" stroke-width="0.75"/>
<text x="227.01" y="162.00" font-size="6.6" text-anchor="end" transform="rotate(-90 227.01 162.00)" stroke="#231f20" stroke-width="0.1">MEL149-2</text>
<line x1="232.04" y1="156.40" x2="232.04" y2="159.60" stroke="#444" stroke-width="0.75"/>
<text x="234.34" y="162.00" font-size="6.6" text-anchor="end" transform="rotate(-90 234.34 162.00)" stroke="#231f20" stroke-width="0.1">RE088</text>
<line x1="239.37" y1="156.40" x2="239.37" y2="159.60" stroke="#444" stroke-width="0.75"/>
<text x="241.67" y="162.00" font-size="6.6" text-anchor="end" transform="rotate(-90 241.67 162.00)" stroke="#231f20" stroke-width="0.1">MEL143</text>
<line x1="246.70" y1="156.40" x2="246.70" y2="159.60" stroke="#444" stroke-width="0.75"/>
<text x="249.00" y="162.00" font-size="6.6" text-anchor="end" transform="rotate(-90 249.00 162.00)" stroke="#231f20" stroke-width="0.1">MEL140</text>
<line x1="254.03" y1="156.40" x2="254.03" y2="159.60" stroke="#444" stroke-width="0.75"/>
<text x="256.33" y="162.00" font-size="6.6" text-anchor="end" transform="rotate(-90 256.33 162.00)" stroke="#231f20" stroke-width="0.1">MEL139</text>
<text x="169.72" y="9.60" font-size="7.5" text-anchor="middle" stroke="#231f20" stroke-width="0.1">CD8&#8211;IL2</text>
<text x="228.38" y="9.60" font-size="7.5" text-anchor="middle" stroke="#231f20" stroke-width="0.1">CD8&#8211;IL2 + LCKi</text>
<defs><linearGradient id="cbB" x1="0" y1="0" x2="0" y2="1"><stop offset="0" stop-color="#3a48a4"/><stop offset="1" stop-color="#fbfbfd"/></linearGradient><linearGradient id="cbR" x1="0" y1="0" x2="0" y2="1"><stop offset="0" stop-color="#f6e4e4"/><stop offset="1" stop-color="#e8323a"/></linearGradient></defs>
<rect x="261.50" y="132.30" width="10.60" height="11.90" fill="url(#cbB)"/>
<rect x="261.50" y="144.20" width="10.60" height="11.90" fill="url(#cbR)"/>
<rect x="261.50" y="132.30" width="10.60" height="23.80" fill="none" stroke="#333" stroke-width="0.6"/>
<line x1="261.50" y1="144.20" x2="263.00" y2="144.20" stroke="#333" stroke-width="0.5"/>
<line x1="270.60" y1="144.20" x2="272.10" y2="144.20" stroke="#333" stroke-width="0.5"/>
<text x="260.00" y="127.00" font-size="7.2" stroke="#231f20" stroke-width="0.1">z-score</text>
<text x="274.00" y="135.60" font-size="7.5" stroke="#231f20" stroke-width="0.1">5</text>
<text x="274.00" y="146.40" font-size="7.5" stroke="#231f20" stroke-width="0.1">0</text>
<text x="273.50" y="158.20" font-size="7.5" stroke="#231f20" stroke-width="0.1">&#8211;5</text>
<line x1="320.30" y1="33.50" x2="320.30" y2="126.30" stroke="#5f6062" stroke-width="0.8"/>
<line x1="320.30" y1="126.30" x2="382.20" y2="126.30" stroke="#5f6062" stroke-width="0.8"/>
<line x1="316.70" y1="34.70" x2="320.30" y2="34.70" stroke="#5f6062" stroke-width="0.8"/>
<text x="313.90" y="37.40" font-size="7.5" text-anchor="end" stroke="#231f20" stroke-width="0.1">40</text>
<line x1="316.70" y1="57.60" x2="320.30" y2="57.60" stroke="#5f6062" stroke-width="0.8"/>
<text x="313.90" y="60.30" font-size="7.5" text-anchor="end" stroke="#231f20" stroke-width="0.1">20</text>
<line x1="316.70" y1="80.50" x2="320.30" y2="80.50" stroke="#5f6062" stroke-width="0.8"/>
<text x="313.90" y="83.20" font-size="7.5" text-anchor="end" stroke="#231f20" stroke-width="0.1">0</text>
<line x1="316.70" y1="103.40" x2="320.30" y2="103.40" stroke="#5f6062" stroke-width="0.8"/>
<text x="313.90" y="106.10" font-size="7.5" text-anchor="end" stroke="#231f20" stroke-width="0.1">&#8722;20</text>
<line x1="316.70" y1="126.30" x2="320.30" y2="126.30" stroke="#5f6062" stroke-width="0.8"/>
<text x="313.90" y="129.00" font-size="7.5" text-anchor="end" stroke="#231f20" stroke-width="0.1">&#8722;40</text>
<line x1="337.80" y1="126.30" x2="337.80" y2="129.40" stroke="#5f6062" stroke-width="0.8"/>
<line x1="364.40" y1="126.30" x2="364.40" y2="129.40" stroke="#5f6062" stroke-width="0.8"/>
<line x1="320.3" y1="80.50" x2="382.2" y2="80.50" stroke="#444" stroke-width="0.6" stroke-dasharray="1.6,1.2"/>
<polyline points="337.8,43.6 337.8,41.0 364.4,41.0 364.4,43.6" fill="none" stroke="#333" stroke-width="0.6"/>
<text x="351.30" y="40.30" font-size="9.5" text-anchor="middle" font-weight="bold" stroke="#231f20" stroke-width="0.35" letter-spacing="0.5">**</text>
<text x="296.90" y="81.00" font-size="7.5" text-anchor="middle" transform="rotate(-90 296.90 81.00)" stroke="#231f20" stroke-width="0.1">Cumulative score</text>
<line x1="337.80" y1="56.20" x2="364.40" y2="72.20" stroke="#47474a" stroke-width="0.55"/>
<line x1="337.80" y1="58.00" x2="364.40" y2="89.60" stroke="#47474a" stroke-width="0.55"/>
<line x1="337.80" y1="60.90" x2="364.40" y2="94.70" stroke="#47474a" stroke-width="0.55"/>
<line x1="337.80" y1="67.10" x2="364.40" y2="85.80" stroke="#47474a" stroke-width="0.55"/>
<line x1="337.80" y1="73.20" x2="364.40" y2="100.40" stroke="#47474a" stroke-width="0.55"/>
<line x1="337.80" y1="79.60" x2="364.40" y2="95.50" stroke="#47474a" stroke-width="0.55"/>
<line x1="337.80" y1="80.80" x2="364.40" y2="117.70" stroke="#47474a" stroke-width="0.55"/>
<line x1="337.80" y1="86.50" x2="364.40" y2="102.10" stroke="#47474a" stroke-width="0.55"/>
<path d="M337.80,53.20 L340.80,56.20 L337.80,59.20 L334.80,56.20 Z" fill="#e8262d"/>
<path d="M337.80,55.00 L340.80,58.00 L337.80,61.00 L334.80,58.00 Z" fill="#e8262d"/>
<path d="M337.80,57.90 L340.80,60.90 L337.80,63.90 L334.80,60.90 Z" fill="#e8262d"/>
<path d="M337.80,64.10 L340.80,67.10 L337.80,70.10 L334.80,67.10 Z" fill="#e8262d"/>
<path d="M337.80,70.20 L340.80,73.20 L337.80,76.20 L334.80,73.20 Z" fill="#e8262d"/>
<path d="M337.80,76.60 L340.80,79.60 L337.80,82.60 L334.80,79.60 Z" fill="#e8262d"/>
<path d="M337.80,77.80 L340.80,80.80 L337.80,83.80 L334.80,80.80 Z" fill="#e8262d"/>
<path d="M337.80,83.50 L340.80,86.50 L337.80,89.50 L334.80,86.50 Z" fill="#e8262d"/>
<path d="M364.40,69.40 L367.20,72.20 L364.40,75.00 L361.60,72.20 Z" fill="#4c3d9c"/>
<path d="M364.40,86.80 L367.20,89.60 L364.40,92.40 L361.60,89.60 Z" fill="#4c3d9c"/>
<path d="M364.40,91.90 L367.20,94.70 L364.40,97.50 L361.60,94.70 Z" fill="#4c3d9c"/>
<path d="M364.40,83.00 L367.20,85.80 L364.40,88.60 L361.60,85.80 Z" fill="#4c3d9c"/>
<path d="M364.40,97.60 L367.20,100.40 L364.40,103.20 L361.60,100.40 Z" fill="#4c3d9c"/>
<path d="M364.40,92.70 L367.20,95.50 L364.40,98.30 L361.60,95.50 Z" fill="#4c3d9c"/>
<path d="M364.40,114.90 L367.20,117.70 L364.40,120.50 L361.60,117.70 Z" fill="#4c3d9c"/>
<path d="M364.40,99.30 L367.20,102.10 L364.40,104.90 L361.60,102.10 Z" fill="#4c3d9c"/>
<text x="339.90" y="136.20" font-size="7.5" text-anchor="end" transform="rotate(-45 339.90 136.20)" stroke="#231f20" stroke-width="0.1">CD8&#8211;IL2</text>
<text x="367.40" y="136.20" font-size="7.5" text-anchor="end" transform="rotate(-45 367.40 136.20)" stroke="#231f20" stroke-width="0.1">CD8&#8211;IL2 + LCKi</text>
<rect x="416.4" y="33.6" width="92.20" height="92.80" fill="none" stroke="#5f6062" stroke-width="0.8"/>
<line x1="416.40" y1="126.40" x2="508.60" y2="33.60" stroke="#1a1a1a" stroke-width="0.75" stroke-dasharray="2.1,1.1"/>
<line x1="413.40" y1="49.00" x2="416.40" y2="49.00" stroke="#5f6062" stroke-width="0.8"/>
<text x="411.00" y="51.70" font-size="7.5" text-anchor="end" stroke="#231f20" stroke-width="0.1">1</text>
<line x1="493.10" y1="126.40" x2="493.10" y2="129.40" stroke="#5f6062" stroke-width="0.8"/>
<text x="493.40" y="139.00" font-size="7.5" text-anchor="middle" stroke="#231f20" stroke-width="0.1">1</text>
<line x1="413.40" y1="80.00" x2="416.40" y2="80.00" stroke="#5f6062" stroke-width="0.8"/>
<text x="411.00" y="82.70" font-size="7.5" text-anchor="end" stroke="#231f20" stroke-width="0.1">0</text>
<line x1="462.40" y1="126.40" x2="462.40" y2="129.40" stroke="#5f6062" stroke-width="0.8"/>
<text x="462.70" y="139.00" font-size="7.5" text-anchor="middle" stroke="#231f20" stroke-width="0.1">0</text>
<line x1="413.40" y1="111.00" x2="416.40" y2="111.00" stroke="#5f6062" stroke-width="0.8"/>
<text x="411.00" y="113.70" font-size="7.5" text-anchor="end" stroke="#231f20" stroke-width="0.1">&#8722;1</text>
<line x1="431.70" y1="126.40" x2="431.70" y2="129.40" stroke="#5f6062" stroke-width="0.8"/>
<text x="432.00" y="139.00" font-size="7.5" text-anchor="middle" stroke="#231f20" stroke-width="0.1">&#8722;1</text>
<text x="460.60" y="149.00" font-size="7.5" text-anchor="middle" stroke="#231f20" stroke-width="0.1">CD8&#8211;IL2 LOG2FC</text>
<text x="397.00" y="80.40" font-size="7.5" text-anchor="middle" transform="rotate(-90 397.00 80.40)" stroke="#231f20" stroke-width="0.1">CD8&#8211;IL2 + LCKi LOG2FC</text>
<circle cx="463.4" cy="83.0" r="1.35" fill="#c4221f"/>
<circle cx="468.8" cy="81.7" r="1.35" fill="#c4221f"/>
<circle cx="475.9" cy="82.0" r="1.35" fill="#c4221f"/>
<circle cx="472.5" cy="84.0" r="1.35" fill="#c4221f"/>
<circle cx="466.7" cy="85.9" r="1.35" fill="#c4221f"/>
<circle cx="461.7" cy="86.8" r="1.35" fill="#c4221f"/>
<circle cx="462.4" cy="85.6" r="1.35" fill="#c4221f"/>
<circle cx="474.4" cy="89.9" r="1.35" fill="#c4221f"/>
<circle cx="482.0" cy="84.4" r="1.35" fill="#c4221f"/>
<circle cx="483.5" cy="85.2" r="1.35" fill="#c4221f"/>
<circle cx="485.2" cy="86.6" r="1.35" fill="#c4221f"/>
<circle cx="491.0" cy="87.8" r="1.35" fill="#c4221f"/>
<circle cx="484.2" cy="93.6" r="1.35" fill="#c4221f"/>
<circle cx="462.9" cy="95.0" r="1.35" fill="#c4221f"/>
<circle cx="463.4" cy="96.4" r="1.35" fill="#c4221f"/>
<circle cx="475.9" cy="97.9" r="1.35" fill="#c4221f"/>
<circle cx="507.5" cy="98.0" r="1.35" fill="#c4221f"/>
<circle cx="483.0" cy="106.9" r="1.35" fill="#c4221f"/>
<circle cx="469.8" cy="107.8" r="1.35" fill="#c4221f"/>
<circle cx="467.8" cy="111.0" r="1.35" fill="#c4221f"/>
<circle cx="476.0" cy="109.0" r="1.35" fill="#c4221f"/>
<circle cx="472.9" cy="112.3" r="1.35" fill="#c4221f"/>
<circle cx="480.0" cy="125.3" r="1.35" fill="#c4221f"/>
<text x="461.60" y="79.70" font-size="4.1" fill="#2a2a2a" stroke="#2a2a2a" stroke-width="0.06">IL4</text>
<text x="469.90" y="79.70" font-size="4.1" fill="#2a2a2a" stroke="#2a2a2a" stroke-width="0.06">sFasL</text>
<text x="477.50" y="77.70" font-size="4.1" fill="#2a2a2a" stroke="#2a2a2a" stroke-width="0.06">GranB</text>
<text x="490.00" y="79.70" font-size="4.1" fill="#2a2a2a" stroke="#2a2a2a" stroke-width="0.06">IL6</text>
<text x="490.60" y="85.30" font-size="4.1" fill="#2a2a2a" stroke="#2a2a2a" stroke-width="0.06">CXCL9</text>
<text x="493.40" y="90.80" font-size="4.1" fill="#2a2a2a" stroke="#2a2a2a" stroke-width="0.06">CXCL1</text>
<text x="440.10" y="84.60" font-size="4.1" fill="#2a2a2a" stroke="#2a2a2a" stroke-width="0.06">Granulysin</text>
<text x="448.40" y="88.70" font-size="4.1" fill="#2a2a2a" stroke="#2a2a2a" stroke-width="0.06">CCL11</text>
<text x="461.50" y="90.80" font-size="4.1" fill="#2a2a2a" stroke="#2a2a2a" stroke-width="0.06">IL17A</text>
<text x="473.30" y="86.00" font-size="4.1" fill="#2a2a2a" stroke="#2a2a2a" stroke-width="0.06">Perf</text>
<text x="479.00" y="90.30" font-size="4.1" fill="#2a2a2a" stroke="#2a2a2a" stroke-width="0.06">IFN&#947;</text>
<text x="451.20" y="95.00" font-size="4.1" fill="#2a2a2a" stroke="#2a2a2a" stroke-width="0.06">CCL5</text>
<text x="469.20" y="95.00" font-size="4.1" fill="#2a2a2a" stroke="#2a2a2a" stroke-width="0.06">GranA</text>
<text x="486.50" y="95.70" font-size="4.1" fill="#2a2a2a" stroke="#2a2a2a" stroke-width="0.06">CCL2</text>
<text x="463.60" y="99.10" font-size="4.1" fill="#2a2a2a" stroke="#2a2a2a" stroke-width="0.06">TNF&#945;</text>
<text x="477.50" y="99.10" font-size="4.1" fill="#2a2a2a" stroke="#2a2a2a" stroke-width="0.06">CCL20</text>
<text x="494.40" y="102.20" font-size="4.1" fill="#2a2a2a" stroke="#2a2a2a" stroke-width="0.06">CXCL5</text>
<text x="485.00" y="105.30" font-size="4.1" fill="#2a2a2a" stroke="#2a2a2a" stroke-width="0.06">CCL4</text>
<text x="455.00" y="105.70" font-size="4.1" fill="#2a2a2a" stroke="#2a2a2a" stroke-width="0.06">CXCL11</text>
<text x="452.50" y="111.90" font-size="4.1" fill="#2a2a2a" stroke="#2a2a2a" stroke-width="0.06">CCL17</text>
<text x="478.00" y="110.70" font-size="4.1" fill="#2a2a2a" stroke="#2a2a2a" stroke-width="0.06">IL10</text>
<text x="475.60" y="114.80" font-size="4.1" fill="#2a2a2a" stroke="#2a2a2a" stroke-width="0.06">CCL3</text>
<text x="481.00" y="124.10" font-size="4.1" fill="#2a2a2a" stroke="#2a2a2a" stroke-width="0.06">CXCL10</text>
<line x1="483.50" y1="79.00" x2="483.50" y2="84.40" stroke="#333" stroke-width="0.35"/>
<line x1="488.80" y1="80.60" x2="485.40" y2="85.40" stroke="#333" stroke-width="0.35"/>
<line x1="490.30" y1="84.50" x2="486.20" y2="86.20" stroke="#333" stroke-width="0.35"/>
<line x1="49.00" y1="214.00" x2="420.40" y2="214.00" stroke="#6d6e71" stroke-width="1.0"/>
<text x="235.00" y="210.80" font-size="7.1" text-anchor="middle" stroke="#231f20" stroke-width="0.1">T cell activation</text>
<line x1="49.20" y1="239.90" x2="49.20" y2="318.00" stroke="#5f6062" stroke-width="0.8"/>
<line x1="49.20" y1="318.00" x2="118.00" y2="318.00" stroke="#a7a9ac" stroke-width="1.0"/>
<line x1="45.30" y1="240.20" x2="49.20" y2="240.20" stroke="#5f6062" stroke-width="0.8"/>
<text x="43.40" y="242.80" font-size="7.5" text-anchor="end" stroke="#231f20" stroke-width="0.1">100</text>
<line x1="45.30" y1="255.76" x2="49.20" y2="255.76" stroke="#5f6062" stroke-width="0.8"/>
<text x="43.40" y="258.36" font-size="7.5" text-anchor="end" stroke="#231f20" stroke-width="0.1">80</text>
<line x1="45.30" y1="271.32" x2="49.20" y2="271.32" stroke="#5f6062" stroke-width="0.8"/>
<text x="43.40" y="273.92" font-size="7.5" text-anchor="end" stroke="#231f20" stroke-width="0.1">60</text>
<line x1="45.30" y1="286.88" x2="49.20" y2="286.88" stroke="#5f6062" stroke-width="0.8"/>
<text x="43.40" y="289.48" font-size="7.5" text-anchor="end" stroke="#231f20" stroke-width="0.1">40</text>
<line x1="45.30" y1="302.44" x2="49.20" y2="302.44" stroke="#5f6062" stroke-width="0.8"/>
<text x="43.40" y="305.04" font-size="7.5" text-anchor="end" stroke="#231f20" stroke-width="0.1">20</text>
<line x1="45.30" y1="318.00" x2="49.20" y2="318.00" stroke="#5f6062" stroke-width="0.8"/>
<text x="43.40" y="320.60" font-size="7.5" text-anchor="end" stroke="#231f20" stroke-width="0.1">0</text>
<line x1="62.80" y1="318.00" x2="62.80" y2="321.00" stroke="#5f6062" stroke-width="0.8"/>
<line x1="83.60" y1="318.00" x2="83.60" y2="321.00" stroke="#5f6062" stroke-width="0.8"/>
<line x1="104.40" y1="318.00" x2="104.40" y2="321.00" stroke="#5f6062" stroke-width="0.8"/>
<text x="85.40" y="227.60" font-size="7.1" text-anchor="middle" stroke="#231f20" stroke-width="0.1">Granzyme B</text>
<polyline points="62.80,241.20 62.80,238.20 83.10,238.20 83.10,241.20" fill="none" stroke="#333" stroke-width="0.65"/>
<polyline points="84.10,241.20 84.10,238.20 104.40,238.20 104.40,241.20" fill="none" stroke="#333" stroke-width="0.65"/>
<text x="73.45" y="238.80" font-size="9.5" text-anchor="middle" font-weight="bold" stroke="#231f20" stroke-width="0.35" letter-spacing="0.5">***</text>
<text x="95.00" y="236.80" font-size="7.1" text-anchor="middle" stroke="#231f20" stroke-width="0.1">ns</text>
<line x1="62.80" y1="265.87" x2="83.60" y2="247.98" stroke="#47474a" stroke-width="0.6"/>
<line x1="83.60" y1="247.98" x2="104.40" y2="254.98" stroke="#47474a" stroke-width="0.6"/>
<line x1="62.80" y1="265.87" x2="83.60" y2="267.43" stroke="#47474a" stroke-width="0.6"/>
<line x1="83.60" y1="267.43" x2="104.40" y2="263.54" stroke="#47474a" stroke-width="0.6"/>
<line x1="62.80" y1="289.99" x2="83.60" y2="266.65" stroke="#47474a" stroke-width="0.6"/>
<line x1="83.60" y1="266.65" x2="104.40" y2="270.54" stroke="#47474a" stroke-width="0.6"/>
<line x1="62.80" y1="296.22" x2="83.60" y2="268.21" stroke="#47474a" stroke-width="0.6"/>
<line x1="83.60" y1="268.21" x2="104.40" y2="271.32" stroke="#47474a" stroke-width="0.6"/>
<line x1="62.80" y1="298.55" x2="83.60" y2="268.99" stroke="#47474a" stroke-width="0.6"/>
<line x1="83.60" y1="268.99" x2="104.40" y2="281.43" stroke="#47474a" stroke-width="0.6"/>
<line x1="62.80" y1="300.88" x2="83.60" y2="269.76" stroke="#47474a" stroke-width="0.6"/>
<line x1="83.60" y1="269.76" x2="104.40" y2="283.77" stroke="#47474a" stroke-width="0.6"/>
<line x1="62.80" y1="302.44" x2="83.60" y2="282.21" stroke="#47474a" stroke-width="0.6"/>
<line x1="83.60" y1="282.21" x2="104.40" y2="286.10" stroke="#47474a" stroke-width="0.6"/>
<line x1="62.80" y1="303.22" x2="83.60" y2="288.44" stroke="#47474a" stroke-width="0.6"/>
<line x1="83.60" y1="288.44" x2="104.40" y2="297.77" stroke="#47474a" stroke-width="0.6"/>
<line x1="62.80" y1="310.22" x2="83.60" y2="293.88" stroke="#47474a" stroke-width="0.6"/>
<line x1="83.60" y1="293.88" x2="104.40" y2="299.33" stroke="#47474a" stroke-width="0.6"/>
<path d="M62.80,263.62 L64.90,267.26 L60.70,267.26 Z" fill="#bdbec0"/>
<path d="M62.80,263.62 L64.90,267.26 L60.70,267.26 Z" fill="#bdbec0"/>
<path d="M62.80,287.74 L64.90,291.37 L60.70,291.37 Z" fill="#bdbec0"/>
<path d="M62.80,293.96 L64.90,297.60 L60.70,297.60 Z" fill="#bdbec0"/>
<path d="M62.80,296.29 L64.90,299.93 L60.70,299.93 Z" fill="#bdbec0"/>
<path d="M62.80,298.63 L64.90,302.27 L60.70,302.27 Z" fill="#bdbec0"/>
<path d="M62.80,300.18 L64.90,303.82 L60.70,303.82 Z" fill="#bdbec0"/>
<path d="M62.80,300.96 L64.90,304.60 L60.70,304.60 Z" fill="#bdbec0"/>
<path d="M62.80,307.96 L64.90,311.60 L60.70,311.60 Z" fill="#bdbec0"/>
<circle cx="83.60" cy="247.98" r="2.3" fill="#e8262d"/>
<circle cx="83.60" cy="267.43" r="2.3" fill="#e8262d"/>
<circle cx="83.60" cy="266.65" r="2.3" fill="#e8262d"/>
<circle cx="83.60" cy="268.21" r="2.3" fill="#e8262d"/>
<circle cx="83.60" cy="268.99" r="2.3" fill="#e8262d"/>
<circle cx="83.60" cy="269.76" r="2.3" fill="#e8262d"/>
<circle cx="83.60" cy="282.21" r="2.3" fill="#e8262d"/>
<circle cx="83.60" cy="288.44" r="2.3" fill="#e8262d"/>
<circle cx="83.60" cy="293.88" r="2.3" fill="#e8262d"/>
<rect x="102.30" y="252.88" width="4.2" height="4.2" fill="#4c3d9c"/>
<rect x="102.30" y="261.44" width="4.2" height="4.2" fill="#4c3d9c"/>
<rect x="102.30" y="268.44" width="4.2" height="4.2" fill="#4c3d9c"/>
<rect x="102.30" y="269.22" width="4.2" height="4.2" fill="#4c3d9c"/>
<rect x="102.30" y="279.33" width="4.2" height="4.2" fill="#4c3d9c"/>
<rect x="102.30" y="281.67" width="4.2" height="4.2" fill="#4c3d9c"/>
<rect x="102.30" y="284.00" width="4.2" height="4.2" fill="#4c3d9c"/>
<rect x="102.30" y="295.67" width="4.2" height="4.2" fill="#4c3d9c"/>
<rect x="102.30" y="297.23" width="4.2" height="4.2" fill="#4c3d9c"/>
<line x1="149.70" y1="239.60" x2="149.70" y2="317.90" stroke="#5f6062" stroke-width="0.8"/>
<line x1="149.70" y1="317.90" x2="218.60" y2="317.90" stroke="#a7a9ac" stroke-width="1.0"/>
<line x1="145.80" y1="239.90" x2="149.70" y2="239.90" stroke="#5f6062" stroke-width="0.8"/>
<text x="143.90" y="242.50" font-size="7.5" text-anchor="end" stroke="#231f20" stroke-width="0.1">40</text>
<line x1="145.80" y1="259.40" x2="149.70" y2="259.40" stroke="#5f6062" stroke-width="0.8"/>
<text x="143.90" y="262.00" font-size="7.5" text-anchor="end" stroke="#231f20" stroke-width="0.1">30</text>
<line x1="145.80" y1="278.90" x2="149.70" y2="278.90" stroke="#5f6062" stroke-width="0.8"/>
<text x="143.90" y="281.50" font-size="7.5" text-anchor="end" stroke="#231f20" stroke-width="0.1">20</text>
<line x1="145.80" y1="298.40" x2="149.70" y2="298.40" stroke="#5f6062" stroke-width="0.8"/>
<text x="143.90" y="301.00" font-size="7.5" text-anchor="end" stroke="#231f20" stroke-width="0.1">10</text>
<line x1="145.80" y1="317.90" x2="149.70" y2="317.90" stroke="#5f6062" stroke-width="0.8"/>
<text x="143.90" y="320.50" font-size="7.5" text-anchor="end" stroke="#231f20" stroke-width="0.1">0</text>
<line x1="163.50" y1="317.90" x2="163.50" y2="320.90" stroke="#5f6062" stroke-width="0.8"/>
<line x1="184.10" y1="317.90" x2="184.10" y2="320.90" stroke="#5f6062" stroke-width="0.8"/>
<line x1="205.00" y1="317.90" x2="205.00" y2="320.90" stroke="#5f6062" stroke-width="0.8"/>
<text x="185.40" y="227.60" font-size="7.1" text-anchor="middle" stroke="#231f20" stroke-width="0.1">Ki67</text>
<polyline points="163.50,241.30 163.50,238.30 183.60,238.30 183.60,241.30" fill="none" stroke="#333" stroke-width="0.65"/>
<polyline points="184.60,241.30 184.60,238.30 205.00,238.30 205.00,241.30" fill="none" stroke="#333" stroke-width="0.65"/>
<text x="174.05" y="239.10" font-size="9.5" text-anchor="middle" font-weight="bold" stroke="#231f20" stroke-width="0.35" letter-spacing="0.5">****</text>
<text x="195.55" y="236.80" font-size="7.1" text-anchor="middle" stroke="#231f20" stroke-width="0.1">ns</text>
<line x1="163.50" y1="314.00" x2="184.10" y2="259.40" stroke="#47474a" stroke-width="0.6"/>
<line x1="184.10" y1="259.40" x2="205.00" y2="275.00" stroke="#47474a" stroke-width="0.6"/>
<line x1="163.50" y1="313.02" x2="184.10" y2="263.30" stroke="#47474a" stroke-width="0.6"/>
<line x1="184.10" y1="263.30" x2="205.00" y2="280.85" stroke="#47474a" stroke-width="0.6"/>
<line x1="163.50" y1="314.97" x2="184.10" y2="275.98" stroke="#47474a" stroke-width="0.6"/>
<line x1="184.10" y1="275.98" x2="205.00" y2="290.60" stroke="#47474a" stroke-width="0.6"/>
<line x1="163.50" y1="315.95" x2="184.10" y2="280.85" stroke="#47474a" stroke-width="0.6"/>
<line x1="184.10" y1="280.85" x2="205.00" y2="304.25" stroke="#47474a" stroke-width="0.6"/>
<line x1="163.50" y1="314.00" x2="184.10" y2="297.42" stroke="#47474a" stroke-width="0.6"/>
<line x1="184.10" y1="297.42" x2="205.00" y2="306.20" stroke="#47474a" stroke-width="0.6"/>
<line x1="163.50" y1="312.05" x2="184.10" y2="299.38" stroke="#47474a" stroke-width="0.6"/>
<line x1="184.10" y1="299.38" x2="205.00" y2="308.15" stroke="#47474a" stroke-width="0.6"/>
<line x1="163.50" y1="315.95" x2="184.10" y2="305.22" stroke="#47474a" stroke-width="0.6"/>
<line x1="184.10" y1="305.22" x2="205.00" y2="310.10" stroke="#47474a" stroke-width="0.6"/>
<line x1="163.50" y1="316.92" x2="184.10" y2="307.17" stroke="#47474a" stroke-width="0.6"/>
<line x1="184.10" y1="307.17" x2="205.00" y2="312.05" stroke="#47474a" stroke-width="0.6"/>
<line x1="163.50" y1="314.97" x2="184.10" y2="310.10" stroke="#47474a" stroke-width="0.6"/>
<line x1="184.10" y1="310.10" x2="205.00" y2="314.00" stroke="#47474a" stroke-width="0.6"/>
<path d="M163.50,311.74 L165.60,315.38 L161.40,315.38 Z" fill="#bdbec0"/>
<path d="M163.50,310.77 L165.60,314.41 L161.40,314.41 Z" fill="#bdbec0"/>
<path d="M163.50,312.72 L165.60,316.36 L161.40,316.36 Z" fill="#bdbec0"/>
<path d="M163.50,313.69 L165.60,317.33 L161.40,317.33 Z" fill="#bdbec0"/>
<path d="M163.50,311.74 L165.60,315.38 L161.40,315.38 Z" fill="#bdbec0"/>
<path d="M163.50,309.79 L165.60,313.43 L161.40,313.43 Z" fill="#bdbec0"/>
<path d="M163.50,313.69 L165.60,317.33 L161.40,317.33 Z" fill="#bdbec0"/>
<path d="M163.50,314.67 L165.60,318.31 L161.40,318.31 Z" fill="#bdbec0"/>
<path d="M163.50,312.72 L165.60,316.36 L161.40,316.36 Z" fill="#bdbec0"/>
<circle cx="184.10" cy="259.40" r="2.3" fill="#e8262d"/>
<circle cx="184.10" cy="263.30" r="2.3" fill="#e8262d"/>
<circle cx="184.10" cy="275.98" r="2.3" fill="#e8262d"/>
<circle cx="184.10" cy="280.85" r="2.3" fill="#e8262d"/>
<circle cx="184.10" cy="297.42" r="2.3" fill="#e8262d"/>
<circle cx="184.10" cy="299.38" r="2.3" fill="#e8262d"/>
<circle cx="184.10" cy="305.22" r="2.3" fill="#e8262d"/>
<circle cx="184.10" cy="307.17" r="2.3" fill="#e8262d"/>
<circle cx="184.10" cy="310.10" r="2.3" fill="#e8262d"/>
<rect x="202.90" y="272.90" width="4.2" height="4.2" fill="#4c3d9c"/>
<rect x="202.90" y="278.75" width="4.2" height="4.2" fill="#4c3d9c"/>
<rect x="202.90" y="288.50" width="4.2" height="4.2" fill="#4c3d9c"/>
<rect x="202.90" y="302.15" width="4.2" height="4.2" fill="#4c3d9c"/>
<rect x="202.90" y="304.10" width="4.2" height="4.2" fill="#4c3d9c"/>
<rect x="202.90" y="306.05" width="4.2" height="4.2" fill="#4c3d9c"/>
<rect x="202.90" y="308.00" width="4.2" height="4.2" fill="#4c3d9c"/>
<rect x="202.90" y="309.95" width="4.2" height="4.2" fill="#4c3d9c"/>
<rect x="202.90" y="311.90" width="4.2" height="4.2" fill="#4c3d9c"/>
<line x1="250.20" y1="239.60" x2="250.20" y2="317.70" stroke="#5f6062" stroke-width="0.8"/>
<line x1="250.20" y1="317.70" x2="319.00" y2="317.70" stroke="#a7a9ac" stroke-width="1.0"/>
<line x1="246.30" y1="239.90" x2="250.20" y2="239.90" stroke="#5f6062" stroke-width="0.8"/>
<text x="244.40" y="242.50" font-size="7.5" text-anchor="end" stroke="#231f20" stroke-width="0.1">100</text>
<line x1="246.30" y1="259.35" x2="250.20" y2="259.35" stroke="#5f6062" stroke-width="0.8"/>
<text x="244.40" y="261.95" font-size="7.5" text-anchor="end" stroke="#231f20" stroke-width="0.1">75</text>
<line x1="246.30" y1="278.80" x2="250.20" y2="278.80" stroke="#5f6062" stroke-width="0.8"/>
<text x="244.40" y="281.40" font-size="7.5" text-anchor="end" stroke="#231f20" stroke-width="0.1">50</text>
<line x1="246.30" y1="298.25" x2="250.20" y2="298.25" stroke="#5f6062" stroke-width="0.8"/>
<text x="244.40" y="300.85" font-size="7.5" text-anchor="end" stroke="#231f20" stroke-width="0.1">25</text>
<line x1="246.30" y1="317.70" x2="250.20" y2="317.70" stroke="#5f6062" stroke-width="0.8"/>
<text x="244.40" y="320.30" font-size="7.5" text-anchor="end" stroke="#231f20" stroke-width="0.1">0</text>
<line x1="264.00" y1="317.70" x2="264.00" y2="320.70" stroke="#5f6062" stroke-width="0.8"/>
<line x1="284.40" y1="317.70" x2="284.40" y2="320.70" stroke="#5f6062" stroke-width="0.8"/>
<line x1="305.20" y1="317.70" x2="305.20" y2="320.70" stroke="#5f6062" stroke-width="0.8"/>
<text x="284.90" y="227.40" font-size="7.1" text-anchor="middle" stroke="#231f20" stroke-width="0.1">PD-1</text>
<polyline points="264.00,238.80 264.00,235.80 283.90,235.80 283.90,238.80" fill="none" stroke="#333" stroke-width="0.65"/>
<polyline points="284.90,238.80 284.90,235.80 305.20,235.80 305.20,238.80" fill="none" stroke="#333" stroke-width="0.65"/>
<text x="274.45" y="235.80" font-size="9.5" text-anchor="middle" font-weight="bold" stroke="#231f20" stroke-width="0.35" letter-spacing="0.5">**</text>
<text x="295.80" y="233.40" font-size="7.1" text-anchor="middle" stroke="#231f20" stroke-width="0.1">ns</text>
<line x1="264.00" y1="243.79" x2="284.40" y2="241.46" stroke="#47474a" stroke-width="0.6"/>
<line x1="284.40" y1="241.46" x2="305.20" y2="243.01" stroke="#47474a" stroke-width="0.6"/>
<line x1="264.00" y1="261.68" x2="284.40" y2="250.79" stroke="#47474a" stroke-width="0.6"/>
<line x1="284.40" y1="250.79" x2="305.20" y2="261.68" stroke="#47474a" stroke-width="0.6"/>
<line x1="264.00" y1="264.80" x2="284.40" y2="252.35" stroke="#47474a" stroke-width="0.6"/>
<line x1="284.40" y1="252.35" x2="305.20" y2="263.24" stroke="#47474a" stroke-width="0.6"/>
<line x1="264.00" y1="266.35" x2="284.40" y2="257.02" stroke="#47474a" stroke-width="0.6"/>
<line x1="284.40" y1="257.02" x2="305.20" y2="264.80" stroke="#47474a" stroke-width="0.6"/>
<line x1="264.00" y1="269.46" x2="284.40" y2="261.68" stroke="#47474a" stroke-width="0.6"/>
<line x1="284.40" y1="261.68" x2="305.20" y2="266.35" stroke="#47474a" stroke-width="0.6"/>
<line x1="264.00" y1="272.58" x2="284.40" y2="263.24" stroke="#47474a" stroke-width="0.6"/>
<line x1="284.40" y1="263.24" x2="305.20" y2="267.13" stroke="#47474a" stroke-width="0.6"/>
<line x1="264.00" y1="274.91" x2="284.40" y2="266.35" stroke="#47474a" stroke-width="0.6"/>
<line x1="284.40" y1="266.35" x2="305.20" y2="268.69" stroke="#47474a" stroke-width="0.6"/>
<line x1="264.00" y1="278.80" x2="284.40" y2="266.35" stroke="#47474a" stroke-width="0.6"/>
<line x1="284.40" y1="266.35" x2="305.20" y2="267.91" stroke="#47474a" stroke-width="0.6"/>
<line x1="264.00" y1="292.80" x2="284.40" y2="281.91" stroke="#47474a" stroke-width="0.6"/>
<line x1="284.40" y1="281.91" x2="305.20" y2="281.91" stroke="#47474a" stroke-width="0.6"/>
<path d="M264.00,241.53 L266.10,245.17 L261.90,245.17 Z" fill="#bdbec0"/>
<path d="M264.00,259.43 L266.10,263.07 L261.90,263.07 Z" fill="#bdbec0"/>
<path d="M264.00,262.54 L266.10,266.18 L261.90,266.18 Z" fill="#bdbec0"/>
<path d="M264.00,264.10 L266.10,267.73 L261.90,267.73 Z" fill="#bdbec0"/>
<path d="M264.00,267.21 L266.10,270.85 L261.90,270.85 Z" fill="#bdbec0"/>
<path d="M264.00,270.32 L266.10,273.96 L261.90,273.96 Z" fill="#bdbec0"/>
<path d="M264.00,272.65 L266.10,276.29 L261.90,276.29 Z" fill="#bdbec0"/>
<path d="M264.00,276.54 L266.10,280.18 L261.90,280.18 Z" fill="#bdbec0"/>
<path d="M264.00,290.55 L266.10,294.19 L261.90,294.19 Z" fill="#bdbec0"/>
<circle cx="284.40" cy="241.46" r="2.3" fill="#e8262d"/>
<circle cx="284.40" cy="250.79" r="2.3" fill="#e8262d"/>
<circle cx="284.40" cy="252.35" r="2.3" fill="#e8262d"/>
<circle cx="284.40" cy="257.02" r="2.3" fill="#e8262d"/>
<circle cx="284.40" cy="261.68" r="2.3" fill="#e8262d"/>
<circle cx="284.40" cy="263.24" r="2.3" fill="#e8262d"/>
<circle cx="284.40" cy="266.35" r="2.3" fill="#e8262d"/>
<circle cx="284.40" cy="266.35" r="2.3" fill="#e8262d"/>
<circle cx="284.40" cy="281.91" r="2.3" fill="#e8262d"/>
<rect x="303.10" y="240.91" width="4.2" height="4.2" fill="#4c3d9c"/>
<rect x="303.10" y="259.58" width="4.2" height="4.2" fill="#4c3d9c"/>
<rect x="303.10" y="261.14" width="4.2" height="4.2" fill="#4c3d9c"/>
<rect x="303.10" y="262.70" width="4.2" height="4.2" fill="#4c3d9c"/>
<rect x="303.10" y="264.25" width="4.2" height="4.2" fill="#4c3d9c"/>
<rect x="303.10" y="265.03" width="4.2" height="4.2" fill="#4c3d9c"/>
<rect x="303.10" y="266.59" width="4.2" height="4.2" fill="#4c3d9c"/>
<rect x="303.10" y="265.81" width="4.2" height="4.2" fill="#4c3d9c"/>
<rect x="303.10" y="279.81" width="4.2" height="4.2" fill="#4c3d9c"/>
<line x1="353.30" y1="239.60" x2="353.30" y2="317.90" stroke="#5f6062" stroke-width="0.8"/>
<line x1="353.30" y1="317.90" x2="421.60" y2="317.90" stroke="#a7a9ac" stroke-width="1.0"/>
<line x1="349.40" y1="239.90" x2="353.30" y2="239.90" stroke="#5f6062" stroke-width="0.8"/>
<text x="347.50" y="242.50" font-size="7.5" text-anchor="end" stroke="#231f20" stroke-width="0.1">10</text>
<line x1="349.40" y1="255.50" x2="353.30" y2="255.50" stroke="#5f6062" stroke-width="0.8"/>
<text x="347.50" y="258.10" font-size="7.5" text-anchor="end" stroke="#231f20" stroke-width="0.1">8</text>
<line x1="349.40" y1="271.10" x2="353.30" y2="271.10" stroke="#5f6062" stroke-width="0.8"/>
<text x="347.50" y="273.70" font-size="7.5" text-anchor="end" stroke="#231f20" stroke-width="0.1">6</text>
<line x1="349.40" y1="286.70" x2="353.30" y2="286.70" stroke="#5f6062" stroke-width="0.8"/>
<text x="347.50" y="289.30" font-size="7.5" text-anchor="end" stroke="#231f20" stroke-width="0.1">4</text>
<line x1="349.40" y1="302.30" x2="353.30" y2="302.30" stroke="#5f6062" stroke-width="0.8"/>
<text x="347.50" y="304.90" font-size="7.5" text-anchor="end" stroke="#231f20" stroke-width="0.1">2</text>
<line x1="349.40" y1="317.90" x2="353.30" y2="317.90" stroke="#5f6062" stroke-width="0.8"/>
<text x="347.50" y="320.50" font-size="7.5" text-anchor="end" stroke="#231f20" stroke-width="0.1">0</text>
<line x1="366.60" y1="317.90" x2="366.60" y2="320.90" stroke="#5f6062" stroke-width="0.8"/>
<line x1="387.60" y1="317.90" x2="387.60" y2="320.90" stroke="#5f6062" stroke-width="0.8"/>
<line x1="408.50" y1="317.90" x2="408.50" y2="320.90" stroke="#5f6062" stroke-width="0.8"/>
<text x="387.90" y="227.60" font-size="7.1" text-anchor="middle" stroke="#231f20" stroke-width="0.1">CD137</text>
<polyline points="366.60,241.20 366.60,238.20 387.10,238.20 387.10,241.20" fill="none" stroke="#333" stroke-width="0.65"/>
<polyline points="388.10,241.20 388.10,238.20 408.50,238.20 408.50,241.20" fill="none" stroke="#333" stroke-width="0.65"/>
<text x="377.35" y="237.90" font-size="9.5" text-anchor="middle" font-weight="bold" stroke="#231f20" stroke-width="0.35" letter-spacing="0.5">**</text>
<text x="398.30" y="237.90" font-size="9.5" text-anchor="middle" font-weight="bold" stroke="#231f20" stroke-width="0.35" letter-spacing="0.5">**</text>
<line x1="366.60" y1="286.70" x2="387.60" y2="243.80" stroke="#47474a" stroke-width="0.6"/>
<line x1="387.60" y1="243.80" x2="408.50" y2="296.06" stroke="#47474a" stroke-width="0.6"/>
<line x1="366.60" y1="303.86" x2="387.60" y2="271.10" stroke="#47474a" stroke-width="0.6"/>
<line x1="387.60" y1="271.10" x2="408.50" y2="299.18" stroke="#47474a" stroke-width="0.6"/>
<line x1="366.60" y1="311.66" x2="387.60" y2="285.14" stroke="#47474a" stroke-width="0.6"/>
<line x1="387.60" y1="285.14" x2="408.50" y2="300.74" stroke="#47474a" stroke-width="0.6"/>
<line x1="366.60" y1="314.00" x2="387.60" y2="285.92" stroke="#47474a" stroke-width="0.6"/>
<line x1="387.60" y1="285.92" x2="408.50" y2="305.42" stroke="#47474a" stroke-width="0.6"/>
<line x1="366.60" y1="315.56" x2="387.60" y2="292.16" stroke="#47474a" stroke-width="0.6"/>
<line x1="387.60" y1="292.16" x2="408.50" y2="310.88" stroke="#47474a" stroke-width="0.6"/>
<line x1="366.60" y1="316.34" x2="387.60" y2="296.06" stroke="#47474a" stroke-width="0.6"/>
<line x1="387.60" y1="296.06" x2="408.50" y2="313.22" stroke="#47474a" stroke-width="0.6"/>
<line x1="366.60" y1="317.12" x2="387.60" y2="302.30" stroke="#47474a" stroke-width="0.6"/>
<line x1="387.60" y1="302.30" x2="408.50" y2="314.78" stroke="#47474a" stroke-width="0.6"/>
<line x1="366.60" y1="317.90" x2="387.60" y2="308.54" stroke="#47474a" stroke-width="0.6"/>
<line x1="387.60" y1="308.54" x2="408.50" y2="316.34" stroke="#47474a" stroke-width="0.6"/>
<line x1="366.60" y1="317.51" x2="387.60" y2="310.88" stroke="#47474a" stroke-width="0.6"/>
<line x1="387.60" y1="310.88" x2="408.50" y2="317.90" stroke="#47474a" stroke-width="0.6"/>
<path d="M366.60,284.44 L368.70,288.08 L364.50,288.08 Z" fill="#bdbec0"/>
<path d="M366.60,301.60 L368.70,305.24 L364.50,305.24 Z" fill="#bdbec0"/>
<path d="M366.60,309.40 L368.70,313.04 L364.50,313.04 Z" fill="#bdbec0"/>
<path d="M366.60,311.74 L368.70,315.38 L364.50,315.38 Z" fill="#bdbec0"/>
<path d="M366.60,313.30 L368.70,316.94 L364.50,316.94 Z" fill="#bdbec0"/>
<path d="M366.60,314.08 L368.70,317.72 L364.50,317.72 Z" fill="#bdbec0"/>
<path d="M366.60,314.86 L368.70,318.50 L364.50,318.50 Z" fill="#bdbec0"/>
<path d="M366.60,315.64 L368.70,319.28 L364.50,319.28 Z" fill="#bdbec0"/>
<path d="M366.60,315.25 L368.70,318.89 L364.50,318.89 Z" fill="#bdbec0"/>
<circle cx="387.60" cy="243.80" r="2.3" fill="#e8262d"/>
<circle cx="387.60" cy="271.10" r="2.3" fill="#e8262d"/>
<circle cx="387.60" cy="285.14" r="2.3" fill="#e8262d"/>
<circle cx="387.60" cy="285.92" r="2.3" fill="#e8262d"/>
<circle cx="387.60" cy="292.16" r="2.3" fill="#e8262d"/>
<circle cx="387.60" cy="296.06" r="2.3" fill="#e8262d"/>
<circle cx="387.60" cy="302.30" r="2.3" fill="#e8262d"/>
<circle cx="387.60" cy="308.54" r="2.3" fill="#e8262d"/>
<circle cx="387.60" cy="310.88" r="2.3" fill="#e8262d"/>
<rect x="406.40" y="293.96" width="4.2" height="4.2" fill="#4c3d9c"/>
<rect x="406.40" y="297.08" width="4.2" height="4.2" fill="#4c3d9c"/>
<rect x="406.40" y="298.64" width="4.2" height="4.2" fill="#4c3d9c"/>
<rect x="406.40" y="303.32" width="4.2" height="4.2" fill="#4c3d9c"/>
<rect x="406.40" y="308.78" width="4.2" height="4.2" fill="#4c3d9c"/>
<rect x="406.40" y="311.12" width="4.2" height="4.2" fill="#4c3d9c"/>
<rect x="406.40" y="312.68" width="4.2" height="4.2" fill="#4c3d9c"/>
<rect x="406.40" y="314.24" width="4.2" height="4.2" fill="#4c3d9c"/>
<rect x="406.40" y="315.80" width="4.2" height="4.2" fill="#4c3d9c"/>
<text x="25.30" y="279.00" font-size="7.5" text-anchor="middle" transform="rotate(-90 25.30 279.00)" stroke="#231f20" stroke-width="0.1">% of CD8<tspan baseline-shift="super" font-size="5">+</tspan> T cells</text>
<path d="M442.50,233.44 L444.70,237.25 L440.30,237.25 Z" fill="#bdbec0"/>
<text x="447.50" y="238.40" font-size="7.5" stroke="#231f20" stroke-width="0.1">Untreated</text>
<circle cx="442.50" cy="248.00" r="2.3" fill="#e8262d"/>
<text x="447.50" y="250.40" font-size="7.5" stroke="#231f20" stroke-width="0.1">CD8&#8211;IL2</text>
<rect x="440.40" y="258.10" width="4.2" height="4.2" fill="#4c3d9c"/>
<text x="447.50" y="262.90" font-size="7.5" stroke="#231f20" stroke-width="0.1">CD8&#8211;IL2 + LCKi</text>
<line x1="34.60" y1="360.00" x2="34.60" y2="421.40" stroke="#5f6062" stroke-width="0.8"/>
<line x1="30.80" y1="421.40" x2="34.60" y2="421.40" stroke="#5f6062" stroke-width="0.8"/>
<text x="28.60" y="424.10" font-size="7.7" text-anchor="end" stroke="#231f20" stroke-width="0.1">0</text>
<line x1="30.80" y1="409.20" x2="34.60" y2="409.20" stroke="#5f6062" stroke-width="0.8"/>
<text x="28.60" y="411.90" font-size="7.7" text-anchor="end" stroke="#231f20" stroke-width="0.1">20</text>
<line x1="30.80" y1="397.00" x2="34.60" y2="397.00" stroke="#5f6062" stroke-width="0.8"/>
<text x="28.60" y="399.70" font-size="7.7" text-anchor="end" stroke="#231f20" stroke-width="0.1">40</text>
<line x1="30.80" y1="384.80" x2="34.60" y2="384.80" stroke="#5f6062" stroke-width="0.8"/>
<text x="28.60" y="387.50" font-size="7.7" text-anchor="end" stroke="#231f20" stroke-width="0.1">60</text>
<line x1="30.80" y1="372.60" x2="34.60" y2="372.60" stroke="#5f6062" stroke-width="0.8"/>
<text x="28.60" y="375.30" font-size="7.7" text-anchor="end" stroke="#231f20" stroke-width="0.1">80</text>
<line x1="30.80" y1="360.40" x2="34.60" y2="360.40" stroke="#5f6062" stroke-width="0.8"/>
<text x="28.60" y="363.10" font-size="7.7" text-anchor="end" stroke="#231f20" stroke-width="0.1">100</text>
<text x="12.70" y="393.80" font-size="7.5" text-anchor="middle" transform="rotate(-90 12.70 393.80)" stroke="#231f20" stroke-width="0.1">% Granzyme B<tspan baseline-shift="super" font-size="5">+</tspan></text>
<rect x="35.20" y="404.93" width="3.80" height="16.47" fill="#ffffff" stroke="#4d4d4f" stroke-width="0.6"/>
<rect x="41.50" y="395.78" width="3.80" height="25.62" fill="#f4f4fb" stroke="#4d4d4f" stroke-width="0.6"/>
<rect x="52.60" y="400.05" width="4.00" height="21.35" fill="#9d9ea1" stroke="#4d4d4f" stroke-width="0.6"/>
<rect x="58.90" y="364.06" width="4.00" height="57.34" fill="#6e6cba" stroke="#4d4d4f" stroke-width="0.6"/>
<rect x="65.87" y="400.66" width="4.00" height="20.74" fill="#a9aaad" stroke="#4d4d4f" stroke-width="0.6"/>
<rect x="72.17" y="365.28" width="4.00" height="56.12" fill="#7a79c0" stroke="#4d4d4f" stroke-width="0.6"/>
<rect x="79.14" y="388.46" width="4.00" height="32.94" fill="#bbbcbe" stroke="#4d4d4f" stroke-width="0.6"/>
<rect x="85.44" y="368.94" width="4.00" height="52.46" fill="#8a89c8" stroke="#4d4d4f" stroke-width="0.6"/>
<rect x="92.41" y="384.80" width="4.00" height="36.60" fill="#c6c7c9" stroke="#4d4d4f" stroke-width="0.6"/>
<rect x="98.71" y="370.77" width="4.00" height="50.63" fill="#9796ce" stroke="#4d4d4f" stroke-width="0.6"/>
<rect x="105.68" y="407.37" width="4.00" height="14.03" fill="#d5d6d8" stroke="#4d4d4f" stroke-width="0.6"/>
<rect x="111.98" y="379.31" width="4.00" height="42.09" fill="#a8a7d8" stroke="#4d4d4f" stroke-width="0.6"/>
<rect x="118.95" y="405.54" width="4.00" height="15.86" fill="#e0e1e2" stroke="#4d4d4f" stroke-width="0.6"/>
<rect x="125.25" y="394.56" width="4.00" height="26.84" fill="#b9b8e0" stroke="#4d4d4f" stroke-width="0.6"/>
<rect x="132.22" y="403.71" width="4.00" height="17.69" fill="#eaeaeb" stroke="#4d4d4f" stroke-width="0.6"/>
<rect x="138.52" y="396.39" width="4.00" height="25.01" fill="#c9c8e8" stroke="#4d4d4f" stroke-width="0.6"/>
<rect x="145.49" y="402.49" width="4.00" height="18.91" fill="#f1f1f2" stroke="#4d4d4f" stroke-width="0.6"/>
<rect x="151.79" y="395.17" width="4.00" height="26.23" fill="#dad9f0" stroke="#4d4d4f" stroke-width="0.6"/>
<rect x="158.76" y="404.32" width="4.00" height="17.08" fill="#f8f8f8" stroke="#4d4d4f" stroke-width="0.6"/>
<rect x="165.06" y="395.78" width="4.00" height="25.62" fill="#ebeaf8" stroke="#4d4d4f" stroke-width="0.6"/>
<line x1="34.60" y1="421.40" x2="47.40" y2="421.40" stroke="#5f6062" stroke-width="0.8"/>
<line x1="51.40" y1="421.40" x2="169.80" y2="421.40" stroke="#5f6062" stroke-width="0.8"/>
<line x1="40.30" y1="421.40" x2="40.30" y2="424.20" stroke="#5f6062" stroke-width="0.8"/>
<line x1="57.75" y1="421.40" x2="57.75" y2="424.20" stroke="#5f6062" stroke-width="0.8"/>
<line x1="71.02" y1="421.40" x2="71.02" y2="424.20" stroke="#5f6062" stroke-width="0.8"/>
<line x1="84.29" y1="421.40" x2="84.29" y2="424.20" stroke="#5f6062" stroke-width="0.8"/>
<line x1="97.56" y1="421.40" x2="97.56" y2="424.20" stroke="#5f6062" stroke-width="0.8"/>
<line x1="110.83" y1="421.40" x2="110.83" y2="424.20" stroke="#5f6062" stroke-width="0.8"/>
<line x1="124.10" y1="421.40" x2="124.10" y2="424.20" stroke="#5f6062" stroke-width="0.8"/>
<line x1="137.37" y1="421.40" x2="137.37" y2="424.20" stroke="#5f6062" stroke-width="0.8"/>
<line x1="150.64" y1="421.40" x2="150.64" y2="424.20" stroke="#5f6062" stroke-width="0.8"/>
<line x1="168.21" y1="421.40" x2="168.21" y2="424.20" stroke="#5f6062" stroke-width="0.8"/>
<text x="40.60" y="433.00" font-size="7.5" text-anchor="middle" stroke="#231f20" stroke-width="0.1">0</text>
<text x="62.15" y="432.70" font-size="7.5" text-anchor="end" transform="rotate(-45 62.15 432.70)" stroke="#231f20" stroke-width="0.1">5 &#215; 10<tspan baseline-shift="super" font-size="5">&#8722;1</tspan></text>
<text x="75.42" y="432.70" font-size="7.5" text-anchor="end" transform="rotate(-45 75.42 432.70)" stroke="#231f20" stroke-width="0.1">5 &#215; 10<tspan baseline-shift="super" font-size="5">&#8722;2</tspan></text>
<text x="88.69" y="432.70" font-size="7.5" text-anchor="end" transform="rotate(-45 88.69 432.70)" stroke="#231f20" stroke-width="0.1">5 &#215; 10<tspan baseline-shift="super" font-size="5">&#8722;3</tspan></text>
<text x="101.96" y="432.70" font-size="7.5" text-anchor="end" transform="rotate(-45 101.96 432.70)" stroke="#231f20" stroke-width="0.1">5 &#215; 10<tspan baseline-shift="super" font-size="5">&#8722;4</tspan></text>
<text x="115.23" y="432.70" font-size="7.5" text-anchor="end" transform="rotate(-45 115.23 432.70)" stroke="#231f20" stroke-width="0.1">5 &#215; 10<tspan baseline-shift="super" font-size="5">&#8722;5</tspan></text>
<text x="128.50" y="432.70" font-size="7.5" text-anchor="end" transform="rotate(-45 128.50 432.70)" stroke="#231f20" stroke-width="0.1">5 &#215; 10<tspan baseline-shift="super" font-size="5">&#8722;6</tspan></text>
<text x="141.77" y="432.70" font-size="7.5" text-anchor="end" transform="rotate(-45 141.77 432.70)" stroke="#231f20" stroke-width="0.1">5 &#215; 10<tspan baseline-shift="super" font-size="5">&#8722;7</tspan></text>
<text x="155.04" y="432.70" font-size="7.5" text-anchor="end" transform="rotate(-45 155.04 432.70)" stroke="#231f20" stroke-width="0.1">5 &#215; 10<tspan baseline-shift="super" font-size="5">&#8722;8</tspan></text>
<text x="172.31" y="432.70" font-size="7.5" text-anchor="end" transform="rotate(-45 172.31 432.70)" stroke="#231f20" stroke-width="0.1">5 &#215; 10<tspan baseline-shift="super" font-size="5">&#8722;9</tspan></text>
<text x="101.00" y="461.40" font-size="7.5" text-anchor="middle" stroke="#231f20" stroke-width="0.1">Concentration &#945;CD3 (&#956;g/mL)</text>
<rect x="55.50" y="347.20" width="11.40" height="6.00" fill="#a9aaad" stroke="#4d4d4f" stroke-width="0.6"/>
<text x="70.20" y="352.90" font-size="7.5" stroke="#231f20" stroke-width="0.1">&#945;CD3</text>
<rect x="98.70" y="347.20" width="12.00" height="6.00" fill="#7a79c0" stroke="#4d4d4f" stroke-width="0.6"/>
<text x="113.60" y="352.90" font-size="7.5" stroke="#231f20" stroke-width="0.1">&#945;CD3 + CD8&#8211;IL2</text>
<line x1="227.80" y1="360.30" x2="227.80" y2="421.60" stroke="#5f6062" stroke-width="0.8"/>
<line x1="223.60" y1="421.60" x2="227.80" y2="421.60" stroke="#5f6062" stroke-width="0.8"/>
<text x="219.90" y="424.10" font-size="7.7" text-anchor="end" stroke="#231f20" stroke-width="0.1">0</text>
<line x1="223.60" y1="409.40" x2="227.80" y2="409.40" stroke="#5f6062" stroke-width="0.8"/>
<text x="219.90" y="411.90" font-size="7.7" text-anchor="end" stroke="#231f20" stroke-width="0.1">10,000</text>
<line x1="223.60" y1="397.20" x2="227.80" y2="397.20" stroke="#5f6062" stroke-width="0.8"/>
<text x="219.90" y="399.70" font-size="7.7" text-anchor="end" stroke="#231f20" stroke-width="0.1">20,000</text>
<line x1="223.60" y1="385.00" x2="227.80" y2="385.00" stroke="#5f6062" stroke-width="0.8"/>
<text x="219.90" y="387.50" font-size="7.7" text-anchor="end" stroke="#231f20" stroke-width="0.1">30,000</text>
<line x1="223.60" y1="372.80" x2="227.80" y2="372.80" stroke="#5f6062" stroke-width="0.8"/>
<text x="219.90" y="375.30" font-size="7.7" text-anchor="end" stroke="#231f20" stroke-width="0.1">40,000</text>
<line x1="223.60" y1="360.60" x2="227.80" y2="360.60" stroke="#5f6062" stroke-width="0.8"/>
<text x="219.90" y="363.10" font-size="7.7" text-anchor="end" stroke="#231f20" stroke-width="0.1">50,000</text>
<text x="277.50" y="352.80" font-size="7.5" text-anchor="middle" stroke="#231f20" stroke-width="0.1">Granzyme B</text>
<rect x="229.70" y="418.92" width="9.80" height="2.68" fill="#ffffff" stroke="#4d4d4f" stroke-width="0.6"/>
<line x1="234.60" y1="418.18" x2="234.60" y2="419.65" stroke="#222" stroke-width="0.6"/>
<line x1="233.00" y1="418.18" x2="236.20" y2="418.18" stroke="#222" stroke-width="0.6"/>
<line x1="233.00" y1="419.65" x2="236.20" y2="419.65" stroke="#222" stroke-width="0.6"/>
<circle cx="231.60" cy="417.94" r="1.35" fill="none" stroke="#333" stroke-width="0.55"/>
<circle cx="233.60" cy="418.55" r="1.35" fill="none" stroke="#333" stroke-width="0.55"/>
<circle cx="236.10" cy="418.18" r="1.35" fill="none" stroke="#333" stroke-width="0.55"/>
<circle cx="238.10" cy="417.82" r="1.35" fill="none" stroke="#333" stroke-width="0.55"/>
<circle cx="234.60" cy="421.60" r="1.35" fill="none" stroke="#333" stroke-width="0.55"/>
<rect x="241.40" y="419.04" width="10.00" height="2.56" fill="#d3d4d6" stroke="#4d4d4f" stroke-width="0.6"/>
<line x1="246.40" y1="418.31" x2="246.40" y2="419.77" stroke="#222" stroke-width="0.6"/>
<line x1="244.80" y1="418.31" x2="248.00" y2="418.31" stroke="#222" stroke-width="0.6"/>
<line x1="244.80" y1="419.77" x2="248.00" y2="419.77" stroke="#222" stroke-width="0.6"/>
<circle cx="243.40" cy="418.06" r="1.35" fill="none" stroke="#333" stroke-width="0.55"/>
<circle cx="245.40" cy="418.43" r="1.35" fill="none" stroke="#333" stroke-width="0.55"/>
<circle cx="247.90" cy="418.31" r="1.35" fill="none" stroke="#333" stroke-width="0.55"/>
<circle cx="249.90" cy="418.06" r="1.35" fill="none" stroke="#333" stroke-width="0.55"/>
<circle cx="246.40" cy="421.60" r="1.35" fill="none" stroke="#333" stroke-width="0.55"/>
<rect x="257.40" y="389.27" width="9.90" height="32.33" fill="#a7a9ac" stroke="#4d4d4f" stroke-width="0.6"/>
<line x1="262.35" y1="381.95" x2="262.35" y2="396.59" stroke="#222" stroke-width="0.6"/>
<line x1="260.75" y1="381.95" x2="263.95" y2="381.95" stroke="#222" stroke-width="0.6"/>
<line x1="260.75" y1="396.59" x2="263.95" y2="396.59" stroke="#222" stroke-width="0.6"/>
<circle cx="262.35" cy="375.12" r="1.35" fill="none" stroke="#333" stroke-width="0.55"/>
<circle cx="262.35" cy="382.44" r="1.35" fill="none" stroke="#333" stroke-width="0.55"/>
<circle cx="259.15" cy="399.27" r="1.35" fill="none" stroke="#333" stroke-width="0.55"/>
<circle cx="266.15" cy="397.93" r="1.35" fill="none" stroke="#333" stroke-width="0.55"/>
<rect x="269.40" y="370.97" width="9.50" height="50.63" fill="#6b6ab6" stroke="#4d4d4f" stroke-width="0.6"/>
<line x1="274.15" y1="369.51" x2="274.15" y2="372.43" stroke="#222" stroke-width="0.6"/>
<line x1="272.55" y1="369.51" x2="275.75" y2="369.51" stroke="#222" stroke-width="0.6"/>
<line x1="272.55" y1="372.43" x2="275.75" y2="372.43" stroke="#222" stroke-width="0.6"/>
<circle cx="270.65" cy="368.53" r="1.35" fill="none" stroke="#333" stroke-width="0.55"/>
<circle cx="276.15" cy="369.75" r="1.35" fill="none" stroke="#333" stroke-width="0.55"/>
<circle cx="274.65" cy="372.80" r="1.35" fill="none" stroke="#333" stroke-width="0.55"/>
<circle cx="278.15" cy="369.14" r="1.35" fill="none" stroke="#333" stroke-width="0.55"/>
<rect x="281.30" y="372.56" width="9.20" height="49.04" fill="#8c8bc9" stroke="#4d4d4f" stroke-width="0.6"/>
<line x1="285.90" y1="370.36" x2="285.90" y2="374.75" stroke="#222" stroke-width="0.6"/>
<line x1="284.30" y1="370.36" x2="287.50" y2="370.36" stroke="#222" stroke-width="0.6"/>
<line x1="284.30" y1="374.75" x2="287.50" y2="374.75" stroke="#222" stroke-width="0.6"/>
<circle cx="282.40" cy="369.14" r="1.35" fill="none" stroke="#333" stroke-width="0.55"/>
<circle cx="285.90" cy="378.29" r="1.35" fill="none" stroke="#333" stroke-width="0.55"/>
<circle cx="289.40" cy="368.41" r="1.35" fill="none" stroke="#333" stroke-width="0.55"/>
<circle cx="284.90" cy="370.36" r="1.35" fill="none" stroke="#333" stroke-width="0.55"/>
<rect x="293.00" y="375.24" width="9.70" height="46.36" fill="#aaa9da" stroke="#4d4d4f" stroke-width="0.6"/>
<line x1="297.85" y1="370.60" x2="297.85" y2="379.88" stroke="#222" stroke-width="0.6"/>
<line x1="296.25" y1="370.60" x2="299.45" y2="370.60" stroke="#222" stroke-width="0.6"/>
<line x1="296.25" y1="379.88" x2="299.45" y2="379.88" stroke="#222" stroke-width="0.6"/>
<circle cx="297.85" cy="365.48" r="1.35" fill="none" stroke="#333" stroke-width="0.55"/>
<circle cx="297.85" cy="370.97" r="1.35" fill="none" stroke="#333" stroke-width="0.55"/>
<circle cx="297.85" cy="378.17" r="1.35" fill="none" stroke="#333" stroke-width="0.55"/>
<circle cx="297.85" cy="386.59" r="1.35" fill="none" stroke="#333" stroke-width="0.55"/>
<rect x="304.60" y="373.29" width="10.10" height="48.31" fill="#cbcaea" stroke="#4d4d4f" stroke-width="0.6"/>
<line x1="309.65" y1="370.60" x2="309.65" y2="375.97" stroke="#222" stroke-width="0.6"/>
<line x1="308.05" y1="370.60" x2="311.25" y2="370.60" stroke="#222" stroke-width="0.6"/>
<line x1="308.05" y1="375.97" x2="311.25" y2="375.97" stroke="#222" stroke-width="0.6"/>
<circle cx="309.65" cy="366.33" r="1.35" fill="none" stroke="#333" stroke-width="0.55"/>
<circle cx="306.15" cy="377.56" r="1.35" fill="none" stroke="#333" stroke-width="0.55"/>
<circle cx="313.15" cy="376.09" r="1.35" fill="none" stroke="#333" stroke-width="0.55"/>
<circle cx="309.65" cy="370.48" r="1.35" fill="none" stroke="#333" stroke-width="0.55"/>
<line x1="227.80" y1="421.60" x2="252.00" y2="421.60" stroke="#5f6062" stroke-width="0.8"/>
<line x1="257.00" y1="421.60" x2="317.00" y2="421.60" stroke="#5f6062" stroke-width="0.8"/>
<line x1="234.60" y1="421.60" x2="234.60" y2="424.40" stroke="#5f6062" stroke-width="0.8"/>
<line x1="246.40" y1="421.60" x2="246.40" y2="424.40" stroke="#5f6062" stroke-width="0.8"/>
<line x1="262.35" y1="421.60" x2="262.35" y2="424.40" stroke="#5f6062" stroke-width="0.8"/>
<line x1="274.15" y1="421.60" x2="274.15" y2="424.40" stroke="#5f6062" stroke-width="0.8"/>
<line x1="285.90" y1="421.60" x2="285.90" y2="424.40" stroke="#5f6062" stroke-width="0.8"/>
<line x1="297.85" y1="421.60" x2="297.85" y2="424.40" stroke="#5f6062" stroke-width="0.8"/>
<line x1="309.65" y1="421.60" x2="309.65" y2="424.40" stroke="#5f6062" stroke-width="0.8"/>
<text x="234.60" y="433.00" font-size="7.5" text-anchor="middle" stroke="#231f20" stroke-width="0.1">0</text>
<text x="246.40" y="433.00" font-size="7.5" text-anchor="middle" stroke="#231f20" stroke-width="0.1">0</text>
<text x="262.35" y="433.00" font-size="7.5" text-anchor="middle" stroke="#231f20" stroke-width="0.1">5</text>
<text x="274.15" y="433.00" font-size="7.5" text-anchor="middle" stroke="#231f20" stroke-width="0.1">5</text>
<text x="290.00" y="432.60" font-size="7.5" text-anchor="end" transform="rotate(-45 290.00 432.60)" stroke="#231f20" stroke-width="0.1">5 &#215; 10<tspan baseline-shift="super" font-size="5">&#8722;1</tspan></text>
<text x="301.95" y="432.60" font-size="7.5" text-anchor="end" transform="rotate(-45 301.95 432.60)" stroke="#231f20" stroke-width="0.1">5 &#215; 10<tspan baseline-shift="super" font-size="5">&#8722;2</tspan></text>
<text x="313.75" y="432.60" font-size="7.5" text-anchor="end" transform="rotate(-45 313.75 432.60)" stroke="#231f20" stroke-width="0.1">5 &#215; 10<tspan baseline-shift="super" font-size="5">&#8722;3</tspan></text>
<text x="272.43" y="461.40" font-size="7.5" text-anchor="middle" stroke="#231f20" stroke-width="0.1">Concentration &#945;CD3 (&#956;g/mL)</text>
<text x="191.50" y="392.00" font-size="7.5" text-anchor="middle" transform="rotate(-90 191.50 392.00)" stroke="#231f20" stroke-width="0.1">pg/mL</text>
<line x1="348.20" y1="359.50" x2="348.20" y2="421.60" stroke="#5f6062" stroke-width="0.8"/>
<line x1="344.00" y1="421.60" x2="348.20" y2="421.60" stroke="#5f6062" stroke-width="0.8"/>
<text x="340.30" y="424.10" font-size="7.7" text-anchor="end" stroke="#231f20" stroke-width="0.1">0</text>
<line x1="344.00" y1="401.00" x2="348.20" y2="401.00" stroke="#5f6062" stroke-width="0.8"/>
<text x="340.30" y="403.50" font-size="7.7" text-anchor="end" stroke="#231f20" stroke-width="0.1">20,000</text>
<line x1="344.00" y1="380.40" x2="348.20" y2="380.40" stroke="#5f6062" stroke-width="0.8"/>
<text x="340.30" y="382.90" font-size="7.7" text-anchor="end" stroke="#231f20" stroke-width="0.1">40,000</text>
<line x1="344.00" y1="359.80" x2="348.20" y2="359.80" stroke="#5f6062" stroke-width="0.8"/>
<text x="340.30" y="362.30" font-size="7.7" text-anchor="end" stroke="#231f20" stroke-width="0.1">60,000</text>
<text x="397.50" y="352.80" font-size="7.5" text-anchor="middle" stroke="#231f20" stroke-width="0.1">IFN&#947;</text>
<rect x="352.00" y="421.19" width="9.00" height="0.41" fill="#ffffff" stroke="#4d4d4f" stroke-width="0.6"/>
<line x1="356.50" y1="420.88" x2="356.50" y2="421.50" stroke="#222" stroke-width="0.6"/>
<line x1="354.90" y1="420.88" x2="358.10" y2="420.88" stroke="#222" stroke-width="0.6"/>
<line x1="354.90" y1="421.50" x2="358.10" y2="421.50" stroke="#222" stroke-width="0.6"/>
<circle cx="353.50" cy="421.09" r="1.35" fill="none" stroke="#333" stroke-width="0.55"/>
<circle cx="355.50" cy="421.29" r="1.35" fill="none" stroke="#333" stroke-width="0.55"/>
<circle cx="358.00" cy="420.88" r="1.35" fill="none" stroke="#333" stroke-width="0.55"/>
<circle cx="360.00" cy="421.39" r="1.35" fill="none" stroke="#333" stroke-width="0.55"/>
<rect x="363.40" y="421.19" width="9.00" height="0.41" fill="#d3d4d6" stroke="#4d4d4f" stroke-width="0.6"/>
<line x1="367.90" y1="420.88" x2="367.90" y2="421.50" stroke="#222" stroke-width="0.6"/>
<line x1="366.30" y1="420.88" x2="369.50" y2="420.88" stroke="#222" stroke-width="0.6"/>
<line x1="366.30" y1="421.50" x2="369.50" y2="421.50" stroke="#222" stroke-width="0.6"/>
<circle cx="364.90" cy="421.29" r="1.35" fill="none" stroke="#333" stroke-width="0.55"/>
<circle cx="366.90" cy="421.09" r="1.35" fill="none" stroke="#333" stroke-width="0.55"/>
<circle cx="369.40" cy="421.39" r="1.35" fill="none" stroke="#333" stroke-width="0.55"/>
<circle cx="371.40" cy="420.98" r="1.35" fill="none" stroke="#333" stroke-width="0.55"/>
<rect x="380.50" y="399.46" width="9.50" height="22.14" fill="#a7a9ac" stroke="#4d4d4f" stroke-width="0.6"/>
<line x1="385.25" y1="393.79" x2="385.25" y2="405.12" stroke="#222" stroke-width="0.6"/>
<line x1="383.65" y1="393.79" x2="386.85" y2="393.79" stroke="#222" stroke-width="0.6"/>
<line x1="383.65" y1="405.12" x2="386.85" y2="405.12" stroke="#222" stroke-width="0.6"/>
<circle cx="385.25" cy="384.52" r="1.35" fill="none" stroke="#333" stroke-width="0.55"/>
<circle cx="382.75" cy="401.00" r="1.35" fill="none" stroke="#333" stroke-width="0.55"/>
<circle cx="387.75" cy="401.00" r="1.35" fill="none" stroke="#333" stroke-width="0.55"/>
<circle cx="385.25" cy="410.27" r="1.35" fill="none" stroke="#333" stroke-width="0.55"/>
<rect x="392.10" y="383.90" width="9.40" height="37.70" fill="#6b6ab6" stroke="#4d4d4f" stroke-width="0.6"/>
<line x1="396.80" y1="379.78" x2="396.80" y2="388.02" stroke="#222" stroke-width="0.6"/>
<line x1="395.20" y1="379.78" x2="398.40" y2="379.78" stroke="#222" stroke-width="0.6"/>
<line x1="395.20" y1="388.02" x2="398.40" y2="388.02" stroke="#222" stroke-width="0.6"/>
<circle cx="396.80" cy="372.16" r="1.35" fill="none" stroke="#333" stroke-width="0.55"/>
<circle cx="396.80" cy="383.49" r="1.35" fill="none" stroke="#333" stroke-width="0.55"/>
<circle cx="396.80" cy="388.64" r="1.35" fill="none" stroke="#333" stroke-width="0.55"/>
<circle cx="396.80" cy="392.25" r="1.35" fill="none" stroke="#333" stroke-width="0.55"/>
<rect x="403.40" y="381.95" width="9.40" height="39.65" fill="#8c8bc9" stroke="#4d4d4f" stroke-width="0.6"/>
<line x1="408.10" y1="379.37" x2="408.10" y2="384.52" stroke="#222" stroke-width="0.6"/>
<line x1="406.50" y1="379.37" x2="409.70" y2="379.37" stroke="#222" stroke-width="0.6"/>
<line x1="406.50" y1="384.52" x2="409.70" y2="384.52" stroke="#222" stroke-width="0.6"/>
<circle cx="408.10" cy="373.19" r="1.35" fill="none" stroke="#333" stroke-width="0.55"/>
<circle cx="408.10" cy="384.52" r="1.35" fill="none" stroke="#333" stroke-width="0.55"/>
<circle cx="408.10" cy="388.64" r="1.35" fill="none" stroke="#333" stroke-width="0.55"/>
<circle cx="407.10" cy="382.98" r="1.35" fill="none" stroke="#333" stroke-width="0.55"/>
<rect x="415.10" y="385.55" width="9.30" height="36.05" fill="#aaa9da" stroke="#4d4d4f" stroke-width="0.6"/>
<line x1="419.75" y1="379.88" x2="419.75" y2="391.22" stroke="#222" stroke-width="0.6"/>
<line x1="418.15" y1="379.88" x2="421.35" y2="379.88" stroke="#222" stroke-width="0.6"/>
<line x1="418.15" y1="391.22" x2="421.35" y2="391.22" stroke="#222" stroke-width="0.6"/>
<circle cx="419.75" cy="373.19" r="1.35" fill="none" stroke="#333" stroke-width="0.55"/>
<circle cx="419.75" cy="378.86" r="1.35" fill="none" stroke="#333" stroke-width="0.55"/>
<circle cx="419.75" cy="387.61" r="1.35" fill="none" stroke="#333" stroke-width="0.55"/>
<circle cx="419.75" cy="402.03" r="1.35" fill="none" stroke="#333" stroke-width="0.55"/>
<rect x="426.80" y="381.95" width="9.30" height="39.65" fill="#cbcaea" stroke="#4d4d4f" stroke-width="0.6"/>
<line x1="431.45" y1="375.25" x2="431.45" y2="388.64" stroke="#222" stroke-width="0.6"/>
<line x1="429.85" y1="375.25" x2="433.05" y2="375.25" stroke="#222" stroke-width="0.6"/>
<line x1="429.85" y1="388.64" x2="433.05" y2="388.64" stroke="#222" stroke-width="0.6"/>
<circle cx="427.95" cy="375.25" r="1.35" fill="none" stroke="#333" stroke-width="0.55"/>
<circle cx="434.95" cy="373.19" r="1.35" fill="none" stroke="#333" stroke-width="0.55"/>
<circle cx="431.45" cy="401.00" r="1.35" fill="none" stroke="#333" stroke-width="0.55"/>
<circle cx="431.45" cy="376.28" r="1.35" fill="none" stroke="#333" stroke-width="0.55"/>
<line x1="348.20" y1="421.60" x2="375.00" y2="421.60" stroke="#5f6062" stroke-width="0.8"/>
<line x1="379.90" y1="421.60" x2="437.30" y2="421.60" stroke="#5f6062" stroke-width="0.8"/>
<line x1="356.50" y1="421.60" x2="356.50" y2="424.40" stroke="#5f6062" stroke-width="0.8"/>
<line x1="367.90" y1="421.60" x2="367.90" y2="424.40" stroke="#5f6062" stroke-width="0.8"/>
<line x1="385.25" y1="421.60" x2="385.25" y2="424.40" stroke="#5f6062" stroke-width="0.8"/>
<line x1="396.80" y1="421.60" x2="396.80" y2="424.40" stroke="#5f6062" stroke-width="0.8"/>
<line x1="408.10" y1="421.60" x2="408.10" y2="424.40" stroke="#5f6062" stroke-width="0.8"/>
<line x1="419.75" y1="421.60" x2="419.75" y2="424.40" stroke="#5f6062" stroke-width="0.8"/>
<line x1="431.45" y1="421.60" x2="431.45" y2="424.40" stroke="#5f6062" stroke-width="0.8"/>
<text x="356.50" y="433.00" font-size="7.5" text-anchor="middle" stroke="#231f20" stroke-width="0.1">0</text>
<text x="367.90" y="433.00" font-size="7.5" text-anchor="middle" stroke="#231f20" stroke-width="0.1">0</text>
<text x="385.25" y="433.00" font-size="7.5" text-anchor="middle" stroke="#231f20" stroke-width="0.1">5</text>
<text x="396.80" y="433.00" font-size="7.5" text-anchor="middle" stroke="#231f20" stroke-width="0.1">5</text>
<text x="412.20" y="432.60" font-size="7.5" text-anchor="end" transform="rotate(-45 412.20 432.60)" stroke="#231f20" stroke-width="0.1">5 &#215; 10<tspan baseline-shift="super" font-size="5">&#8722;1</tspan></text>
<text x="423.85" y="432.60" font-size="7.5" text-anchor="end" transform="rotate(-45 423.85 432.60)" stroke="#231f20" stroke-width="0.1">5 &#215; 10<tspan baseline-shift="super" font-size="5">&#8722;2</tspan></text>
<text x="435.55" y="432.60" font-size="7.5" text-anchor="end" transform="rotate(-45 435.55 432.60)" stroke="#231f20" stroke-width="0.1">5 &#215; 10<tspan baseline-shift="super" font-size="5">&#8722;3</tspan></text>
<text x="395.48" y="461.40" font-size="7.5" text-anchor="middle" stroke="#231f20" stroke-width="0.1">Concentration &#945;CD3 (&#956;g/mL)</text>
<rect x="445.30" y="355.20" width="12.00" height="6.20" fill="#ffffff" stroke="#4d4d4f" stroke-width="0.6"/>
<text x="462.00" y="361.10" font-size="7.5" stroke="#231f20" stroke-width="0.1">Untreated</text>
<rect x="445.30" y="365.60" width="12.00" height="6.20" fill="#d3d4d6" stroke="#4d4d4f" stroke-width="0.6"/>
<text x="462.00" y="371.50" font-size="7.5" stroke="#231f20" stroke-width="0.1">CD8&#8211;IL2</text>
<rect x="445.30" y="376.00" width="12.00" height="6.20" fill="#a7a9ac" stroke="#4d4d4f" stroke-width="0.6"/>
<text x="462.00" y="381.90" font-size="7.5" stroke="#231f20" stroke-width="0.1">&#945;CD3</text>
<rect x="445.30" y="386.40" width="12.00" height="6.20" fill="#7271bb" stroke="#4d4d4f" stroke-width="0.6"/>
<text x="462.00" y="392.30" font-size="7.5" stroke="#231f20" stroke-width="0.1">&#945;CD3 + CD8&#8211;IL2</text>
</svg></body></html>
